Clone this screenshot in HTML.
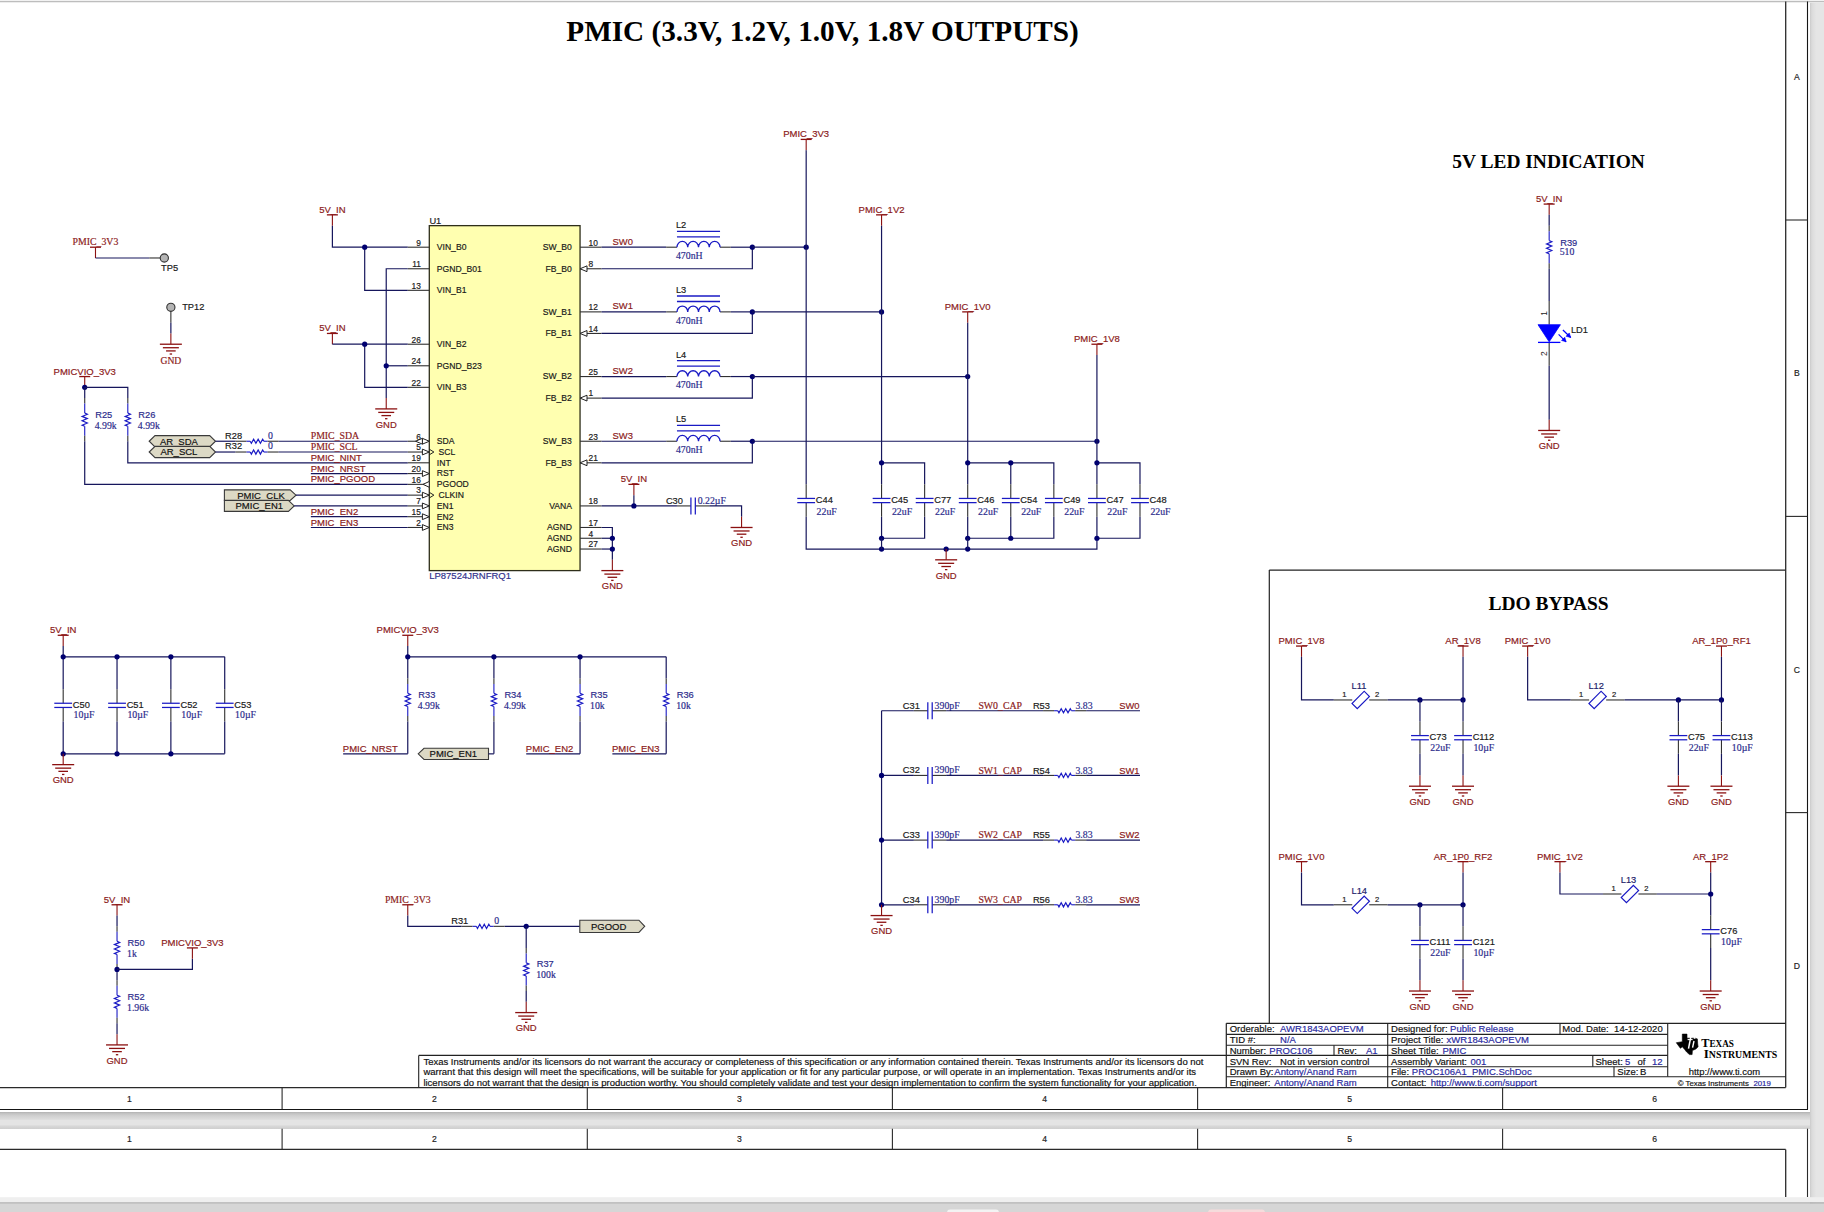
<!DOCTYPE html>
<html><head><meta charset="utf-8"><title>PMIC schematic</title>
<style>
html,body{margin:0;padding:0;background:#fff;}
body{width:1824px;height:1212px;overflow:hidden;position:relative;}
svg{position:absolute;left:0;top:0;}
.S{font-family:"Liberation Sans",sans-serif;}
.R{font-family:"Liberation Serif",serif;}
text{stroke-width:0.18px;}
</style></head><body>
<svg width="1824" height="1212" viewBox="0 0 1824 1212">
<defs>
<linearGradient id="gap" x1="0" y1="0" x2="0" y2="1">
<stop offset="0" stop-color="#b0b0b0"/><stop offset="0.06" stop-color="#bebebe"/><stop offset="0.12" stop-color="#c6c6c6"/><stop offset="0.2" stop-color="#cecece"/><stop offset="0.32" stop-color="#d6d6d6"/><stop offset="0.42" stop-color="#dcdcdc"/><stop offset="0.5" stop-color="#e4e4e4"/><stop offset="0.74" stop-color="#e4e4e4"/><stop offset="0.8" stop-color="#dcdcdc"/><stop offset="0.88" stop-color="#d4d4d4"/><stop offset="1" stop-color="#cfcfcf"/>
</linearGradient>
<linearGradient id="rs" x1="0" y1="0" x2="1" y2="0">
<stop offset="0" stop-color="#c9c9c9"/><stop offset="0.07" stop-color="#d4d4d4"/><stop offset="0.15" stop-color="#dbdbdb"/><stop offset="0.28" stop-color="#e0e0e0"/><stop offset="0.45" stop-color="#e5e5e5"/><stop offset="1" stop-color="#e5e5e5"/>
</linearGradient>
</defs>
<rect x="0" y="0" width="1824" height="1212" fill="#fff"/>
<rect x="1810" y="0" width="14" height="1212" fill="url(#rs)"/>
<rect x="0" y="1112" width="1810" height="17" fill="url(#gap)"/>
<rect x="0" y="1197.2" width="1824" height="5" fill="#efefef"/>
<rect x="0" y="1202.2" width="1824" height="1.6" fill="#b2b2b2"/>
<rect x="0" y="1203.8" width="1824" height="8.2" fill="#d6d6d6"/>
<rect x="0" y="0" width="1824" height="1" fill="#f2f2f2"/>
<rect x="0" y="1" width="1824" height="1.2" fill="#bdbdbd"/>
<rect x="0" y="2.2" width="1824" height="0.8" fill="#ececec"/>
<rect x="429.3" y="225.64" width="150.75" height="344.96" fill="#ffffb0" stroke="#2e2e1a" stroke-width="1.3"/>
<text x="429.4" y="223.74" class="S" font-size="9.3" fill="#1a1a1a" stroke="#1a1a1a">U1</text>
<text x="429.2" y="578.6" class="S" font-size="9.5" fill="#32328c" stroke="#32328c">LP87524JRNFRQ1</text>
<line x1="407.76" y1="247.2" x2="429.3" y2="247.2" stroke="#303030" stroke-width="1.1"/>
<text x="420.9" y="245.5" class="S" font-size="8.4" fill="#1a1a1a" stroke="#1a1a1a" text-anchor="end">9</text>
<text x="436.8" y="250" class="S" font-size="8.6" fill="#1a1a1a" stroke="#1a1a1a">VIN_B0</text>
<line x1="407.76" y1="268.76" x2="429.3" y2="268.76" stroke="#303030" stroke-width="1.1"/>
<text x="420.9" y="267.06" class="S" font-size="8.4" fill="#1a1a1a" stroke="#1a1a1a" text-anchor="end">11</text>
<text x="436.8" y="271.56" class="S" font-size="8.6" fill="#1a1a1a" stroke="#1a1a1a">PGND_B01</text>
<line x1="407.76" y1="290.32" x2="429.3" y2="290.32" stroke="#303030" stroke-width="1.1"/>
<text x="420.9" y="288.62" class="S" font-size="8.4" fill="#1a1a1a" stroke="#1a1a1a" text-anchor="end">13</text>
<text x="436.8" y="293.12" class="S" font-size="8.6" fill="#1a1a1a" stroke="#1a1a1a">VIN_B1</text>
<line x1="407.76" y1="344.22" x2="429.3" y2="344.22" stroke="#303030" stroke-width="1.1"/>
<text x="420.9" y="342.52" class="S" font-size="8.4" fill="#1a1a1a" stroke="#1a1a1a" text-anchor="end">26</text>
<text x="436.8" y="347.02" class="S" font-size="8.6" fill="#1a1a1a" stroke="#1a1a1a">VIN_B2</text>
<line x1="407.76" y1="365.78" x2="429.3" y2="365.78" stroke="#303030" stroke-width="1.1"/>
<text x="420.9" y="364.08" class="S" font-size="8.4" fill="#1a1a1a" stroke="#1a1a1a" text-anchor="end">24</text>
<text x="436.8" y="368.58" class="S" font-size="8.6" fill="#1a1a1a" stroke="#1a1a1a">PGND_B23</text>
<line x1="407.76" y1="387.34" x2="429.3" y2="387.34" stroke="#303030" stroke-width="1.1"/>
<text x="420.9" y="385.64" class="S" font-size="8.4" fill="#1a1a1a" stroke="#1a1a1a" text-anchor="end">22</text>
<text x="436.8" y="390.14" class="S" font-size="8.6" fill="#1a1a1a" stroke="#1a1a1a">VIN_B3</text>
<line x1="407.76" y1="441.24" x2="429.3" y2="441.24" stroke="#303030" stroke-width="1.1"/>
<text x="420.9" y="439.54" class="S" font-size="8.4" fill="#1a1a1a" stroke="#1a1a1a" text-anchor="end">6</text>
<text x="436.8" y="444.04" class="S" font-size="8.6" fill="#1a1a1a" stroke="#1a1a1a">SDA</text>
<polygon points="422.4,438.34 429.3,441.24 422.4,444.14" stroke="#222" stroke-width="1.0" fill="#fff" stroke-linejoin="miter"/>
<polygon points="422.4,438.34 415.6,441.24 422.4,444.14" stroke="#222" stroke-width="1.0" fill="#fff" stroke-linejoin="miter"/>
<line x1="407.76" y1="452.02" x2="429.3" y2="452.02" stroke="#303030" stroke-width="1.1"/>
<text x="420.9" y="450.32" class="S" font-size="8.4" fill="#1a1a1a" stroke="#1a1a1a" text-anchor="end">5</text>
<text x="438.6" y="454.82" class="S" font-size="8.6" fill="#1a1a1a" stroke="#1a1a1a">SCL</text>
<polygon points="422.4,449.12 429.3,452.02 422.4,454.92" stroke="#222" stroke-width="1.0" fill="#fff" stroke-linejoin="miter"/>
<polyline points="429.3,449.22 433.9,452.02 429.3,454.82" stroke="#222" stroke-width="1.0" fill="none" stroke-linejoin="miter"/>
<line x1="407.76" y1="462.8" x2="429.3" y2="462.8" stroke="#303030" stroke-width="1.1"/>
<text x="420.9" y="461.1" class="S" font-size="8.4" fill="#1a1a1a" stroke="#1a1a1a" text-anchor="end">19</text>
<text x="436.8" y="465.6" class="S" font-size="8.6" fill="#1a1a1a" stroke="#1a1a1a">INT</text>
<line x1="407.76" y1="473.58" x2="429.3" y2="473.58" stroke="#303030" stroke-width="1.1"/>
<text x="420.9" y="471.88" class="S" font-size="8.4" fill="#1a1a1a" stroke="#1a1a1a" text-anchor="end">20</text>
<text x="436.8" y="476.38" class="S" font-size="8.6" fill="#1a1a1a" stroke="#1a1a1a">RST</text>
<polygon points="422.4,470.68 429.3,473.58 422.4,476.48" stroke="#222" stroke-width="1.0" fill="#fff" stroke-linejoin="miter"/>
<line x1="407.76" y1="484.36" x2="429.3" y2="484.36" stroke="#303030" stroke-width="1.1"/>
<text x="420.9" y="482.66" class="S" font-size="8.4" fill="#1a1a1a" stroke="#1a1a1a" text-anchor="end">16</text>
<text x="436.8" y="487.16" class="S" font-size="8.6" fill="#1a1a1a" stroke="#1a1a1a">PGOOD</text>
<polygon points="429.3,481.46 423,484.36 429.3,487.26" stroke="#222" stroke-width="1.0" fill="#fff" stroke-linejoin="miter"/>
<line x1="407.76" y1="495.14" x2="429.3" y2="495.14" stroke="#303030" stroke-width="1.1"/>
<text x="420.9" y="493.44" class="S" font-size="8.4" fill="#1a1a1a" stroke="#1a1a1a" text-anchor="end">3</text>
<text x="438.6" y="497.94" class="S" font-size="8.6" fill="#1a1a1a" stroke="#1a1a1a">CLKIN</text>
<polygon points="422.4,492.24 429.3,495.14 422.4,498.04" stroke="#222" stroke-width="1.0" fill="#fff" stroke-linejoin="miter"/>
<polyline points="429.3,492.34 433.9,495.14 429.3,497.94" stroke="#222" stroke-width="1.0" fill="none" stroke-linejoin="miter"/>
<line x1="407.76" y1="505.92" x2="429.3" y2="505.92" stroke="#303030" stroke-width="1.1"/>
<text x="420.9" y="504.22" class="S" font-size="8.4" fill="#1a1a1a" stroke="#1a1a1a" text-anchor="end">7</text>
<text x="436.8" y="508.72" class="S" font-size="8.6" fill="#1a1a1a" stroke="#1a1a1a">EN1</text>
<polygon points="422.4,503.02 429.3,505.92 422.4,508.82" stroke="#222" stroke-width="1.0" fill="#fff" stroke-linejoin="miter"/>
<line x1="407.76" y1="516.7" x2="429.3" y2="516.7" stroke="#303030" stroke-width="1.1"/>
<text x="420.9" y="515" class="S" font-size="8.4" fill="#1a1a1a" stroke="#1a1a1a" text-anchor="end">15</text>
<text x="436.8" y="519.5" class="S" font-size="8.6" fill="#1a1a1a" stroke="#1a1a1a">EN2</text>
<polygon points="422.4,513.8 429.3,516.7 422.4,519.6" stroke="#222" stroke-width="1.0" fill="#fff" stroke-linejoin="miter"/>
<line x1="407.76" y1="527.48" x2="429.3" y2="527.48" stroke="#303030" stroke-width="1.1"/>
<text x="420.9" y="525.78" class="S" font-size="8.4" fill="#1a1a1a" stroke="#1a1a1a" text-anchor="end">2</text>
<text x="436.8" y="530.28" class="S" font-size="8.6" fill="#1a1a1a" stroke="#1a1a1a">EN3</text>
<polygon points="422.4,524.58 429.3,527.48 422.4,530.38" stroke="#222" stroke-width="1.0" fill="#fff" stroke-linejoin="miter"/>
<line x1="580.05" y1="247.2" x2="601.59" y2="247.2" stroke="#303030" stroke-width="1.1"/>
<text x="588.5" y="245.5" class="S" font-size="8.4" fill="#1a1a1a" stroke="#1a1a1a">10</text>
<text x="571.9" y="250" class="S" font-size="8.6" fill="#1a1a1a" stroke="#1a1a1a" text-anchor="end">SW_B0</text>
<line x1="580.05" y1="268.76" x2="601.59" y2="268.76" stroke="#303030" stroke-width="1.1"/>
<text x="588.5" y="267.06" class="S" font-size="8.4" fill="#1a1a1a" stroke="#1a1a1a">8</text>
<text x="571.9" y="271.56" class="S" font-size="8.6" fill="#1a1a1a" stroke="#1a1a1a" text-anchor="end">FB_B0</text>
<polygon points="587,265.86 580.05,268.76 587,271.66" stroke="#222" stroke-width="1.0" fill="#fff" stroke-linejoin="miter"/>
<line x1="580.05" y1="311.88" x2="601.59" y2="311.88" stroke="#303030" stroke-width="1.1"/>
<text x="588.5" y="310.18" class="S" font-size="8.4" fill="#1a1a1a" stroke="#1a1a1a">12</text>
<text x="571.9" y="314.68" class="S" font-size="8.6" fill="#1a1a1a" stroke="#1a1a1a" text-anchor="end">SW_B1</text>
<line x1="580.05" y1="333.44" x2="601.59" y2="333.44" stroke="#303030" stroke-width="1.1"/>
<text x="588.5" y="331.74" class="S" font-size="8.4" fill="#1a1a1a" stroke="#1a1a1a">14</text>
<text x="571.9" y="336.24" class="S" font-size="8.6" fill="#1a1a1a" stroke="#1a1a1a" text-anchor="end">FB_B1</text>
<polygon points="587,330.54 580.05,333.44 587,336.34" stroke="#222" stroke-width="1.0" fill="#fff" stroke-linejoin="miter"/>
<line x1="580.05" y1="376.56" x2="601.59" y2="376.56" stroke="#303030" stroke-width="1.1"/>
<text x="588.5" y="374.86" class="S" font-size="8.4" fill="#1a1a1a" stroke="#1a1a1a">25</text>
<text x="571.9" y="379.36" class="S" font-size="8.6" fill="#1a1a1a" stroke="#1a1a1a" text-anchor="end">SW_B2</text>
<line x1="580.05" y1="398.12" x2="601.59" y2="398.12" stroke="#303030" stroke-width="1.1"/>
<text x="588.5" y="396.42" class="S" font-size="8.4" fill="#1a1a1a" stroke="#1a1a1a">1</text>
<text x="571.9" y="400.92" class="S" font-size="8.6" fill="#1a1a1a" stroke="#1a1a1a" text-anchor="end">FB_B2</text>
<polygon points="587,395.22 580.05,398.12 587,401.02" stroke="#222" stroke-width="1.0" fill="#fff" stroke-linejoin="miter"/>
<line x1="580.05" y1="441.24" x2="601.59" y2="441.24" stroke="#303030" stroke-width="1.1"/>
<text x="588.5" y="439.54" class="S" font-size="8.4" fill="#1a1a1a" stroke="#1a1a1a">23</text>
<text x="571.9" y="444.04" class="S" font-size="8.6" fill="#1a1a1a" stroke="#1a1a1a" text-anchor="end">SW_B3</text>
<line x1="580.05" y1="462.8" x2="601.59" y2="462.8" stroke="#303030" stroke-width="1.1"/>
<text x="588.5" y="461.1" class="S" font-size="8.4" fill="#1a1a1a" stroke="#1a1a1a">21</text>
<text x="571.9" y="465.6" class="S" font-size="8.6" fill="#1a1a1a" stroke="#1a1a1a" text-anchor="end">FB_B3</text>
<polygon points="587,459.9 580.05,462.8 587,465.7" stroke="#222" stroke-width="1.0" fill="#fff" stroke-linejoin="miter"/>
<line x1="580.05" y1="505.92" x2="601.59" y2="505.92" stroke="#303030" stroke-width="1.1"/>
<text x="588.5" y="504.22" class="S" font-size="8.4" fill="#1a1a1a" stroke="#1a1a1a">18</text>
<text x="571.9" y="508.72" class="S" font-size="8.6" fill="#1a1a1a" stroke="#1a1a1a" text-anchor="end">VANA</text>
<line x1="580.05" y1="527.48" x2="601.59" y2="527.48" stroke="#303030" stroke-width="1.1"/>
<text x="588.5" y="525.78" class="S" font-size="8.4" fill="#1a1a1a" stroke="#1a1a1a">17</text>
<text x="571.9" y="530.28" class="S" font-size="8.6" fill="#1a1a1a" stroke="#1a1a1a" text-anchor="end">AGND</text>
<line x1="580.05" y1="538.26" x2="601.59" y2="538.26" stroke="#303030" stroke-width="1.1"/>
<text x="588.5" y="536.56" class="S" font-size="8.4" fill="#1a1a1a" stroke="#1a1a1a">4</text>
<text x="571.9" y="541.06" class="S" font-size="8.6" fill="#1a1a1a" stroke="#1a1a1a" text-anchor="end">AGND</text>
<line x1="580.05" y1="549.04" x2="601.59" y2="549.04" stroke="#303030" stroke-width="1.1"/>
<text x="588.5" y="547.34" class="S" font-size="8.4" fill="#1a1a1a" stroke="#1a1a1a">27</text>
<text x="571.9" y="551.84" class="S" font-size="8.6" fill="#1a1a1a" stroke="#1a1a1a" text-anchor="end">AGND</text>
<line x1="326.89" y1="214.86" x2="337.89" y2="214.86" stroke="#8b1010" stroke-width="1.3"/>
<line x1="332.39" y1="214.86" x2="332.39" y2="225.64" stroke="#8b1010" stroke-width="1.1"/>
<text x="332.39" y="212.86" class="S" font-size="9.5" fill="#8b1a1a" stroke="#8b1a1a" text-anchor="middle">5V_IN</text>
<polyline points="332.39,225.64 332.39,247.2 407.76,247.2" stroke="#16165c" stroke-width="1.2" fill="none" stroke-linejoin="miter"/>
<polyline points="364.69,247.2 364.69,290.32 407.76,290.32" stroke="#16165c" stroke-width="1.2" fill="none" stroke-linejoin="miter"/>
<circle cx="364.69" cy="247.2" r="2.6" fill="#000070"/>
<polyline points="407.76,268.76 386.23,268.76 386.23,398.12" stroke="#16165c" stroke-width="1.2" fill="none" stroke-linejoin="miter"/>
<polyline points="386.23,365.78 407.76,365.78" stroke="#16165c" stroke-width="1.2" fill="none" stroke-linejoin="miter"/>
<circle cx="386.23" cy="365.78" r="2.6" fill="#000070"/>
<line x1="326.89" y1="333.44" x2="337.89" y2="333.44" stroke="#8b1010" stroke-width="1.3"/>
<line x1="332.39" y1="333.44" x2="332.39" y2="344.22" stroke="#8b1010" stroke-width="1.1"/>
<text x="332.39" y="331.44" class="S" font-size="9.5" fill="#8b1a1a" stroke="#8b1a1a" text-anchor="middle">5V_IN</text>
<polyline points="332.39,344.22 407.76,344.22" stroke="#16165c" stroke-width="1.2" fill="none" stroke-linejoin="miter"/>
<polyline points="364.69,344.22 364.69,387.34 407.76,387.34" stroke="#16165c" stroke-width="1.2" fill="none" stroke-linejoin="miter"/>
<circle cx="364.69" cy="344.22" r="2.6" fill="#000070"/>
<line x1="386.23" y1="398.12" x2="386.23" y2="408.9" stroke="#8b1010" stroke-width="1.1"/>
<line x1="375.23" y1="408.9" x2="397.23" y2="408.9" stroke="#8b1010" stroke-width="1.3"/>
<line x1="378.23" y1="412.4" x2="394.23" y2="412.4" stroke="#8b1010" stroke-width="1.3"/>
<line x1="381.43" y1="415.6" x2="391.03" y2="415.6" stroke="#8b1010" stroke-width="1.3"/>
<line x1="385.03" y1="418.7" x2="387.43" y2="418.7" stroke="#8b1010" stroke-width="1.3"/>
<text x="386.23" y="427.7" class="S" font-size="9.45" fill="#8b1a1a" stroke="#8b1a1a" text-anchor="middle">GND</text>
<line x1="89.99" y1="247.2" x2="100.99" y2="247.2" stroke="#8b1010" stroke-width="1.3"/>
<line x1="95.49" y1="247.2" x2="95.49" y2="257.98" stroke="#8b1010" stroke-width="1.1"/>
<text x="95.49" y="245.1" class="R" font-size="9.8" fill="#8b1a1a" stroke="#8b1a1a" text-anchor="middle">PMIC_3V3</text>
<polyline points="95.49,257.98 149.33,257.98" stroke="#16165c" stroke-width="1.2" fill="none" stroke-linejoin="miter"/>
<line x1="149.33" y1="257.98" x2="160.13" y2="257.98" stroke="#303030" stroke-width="1.1"/>
<circle cx="164.33" cy="257.98" r="4.1" fill="#b4b4b4" stroke="#333" stroke-width="1.1"/>
<text x="161" y="270.6" class="S" font-size="9.3" fill="#1a1a1a" stroke="#1a1a1a">TP5</text>
<circle cx="170.87" cy="307.3" r="4.1" fill="#b4b4b4" stroke="#333" stroke-width="1.1"/>
<line x1="170.87" y1="311.4" x2="170.87" y2="322.66" stroke="#303030" stroke-width="1.1"/>
<polyline points="170.87,322.66 170.87,333.44" stroke="#16165c" stroke-width="1.2" fill="none" stroke-linejoin="miter"/>
<line x1="170.87" y1="333.44" x2="170.87" y2="344.22" stroke="#8b1010" stroke-width="1.1"/>
<line x1="159.87" y1="344.22" x2="181.87" y2="344.22" stroke="#8b1010" stroke-width="1.3"/>
<line x1="162.87" y1="347.72" x2="178.87" y2="347.72" stroke="#8b1010" stroke-width="1.3"/>
<line x1="166.07" y1="350.92" x2="175.67" y2="350.92" stroke="#8b1010" stroke-width="1.3"/>
<line x1="169.67" y1="354.02" x2="172.07" y2="354.02" stroke="#8b1010" stroke-width="1.3"/>
<text x="170.87" y="363.52" class="R" font-size="9.6" fill="#8b1a1a" stroke="#8b1a1a" text-anchor="middle">GND</text>
<text x="182.2" y="309.7" class="S" font-size="9.3" fill="#1a1a1a" stroke="#1a1a1a">TP12</text>
<line x1="79.22" y1="376.56" x2="90.22" y2="376.56" stroke="#8b1010" stroke-width="1.3"/>
<line x1="84.72" y1="376.56" x2="84.72" y2="387.34" stroke="#8b1010" stroke-width="1.1"/>
<text x="84.72" y="374.56" class="S" font-size="9.5" fill="#8b1a1a" stroke="#8b1a1a" text-anchor="middle">PMICVIO_3V3</text>
<circle cx="84.72" cy="387.34" r="2.6" fill="#000070"/>
<polyline points="84.72,387.34 127.8,387.34 127.8,398.12" stroke="#16165c" stroke-width="1.2" fill="none" stroke-linejoin="miter"/>
<polyline points="84.72,387.34 84.72,398.12" stroke="#16165c" stroke-width="1.2" fill="none" stroke-linejoin="miter"/>
<line x1="84.72" y1="398.12" x2="84.72" y2="403.62" stroke="#303030" stroke-width="1.1"/>
<line x1="84.72" y1="403.62" x2="84.72" y2="413.08" stroke="#1a1ac4" stroke-width="1.1"/>
<polyline points="84.72,413.08 87.32,414.18 82.12,416.38 87.32,418.58 82.12,420.78 87.32,422.98 82.12,425.18 84.72,426.28" stroke="#1a1ac4" stroke-width="1.2" fill="none" stroke-linejoin="miter"/>
<line x1="84.72" y1="426.28" x2="84.72" y2="435.74" stroke="#1a1ac4" stroke-width="1.1"/>
<line x1="84.72" y1="435.74" x2="84.72" y2="441.24" stroke="#303030" stroke-width="1.1"/>
<text x="95.22" y="417.68" class="S" font-size="9.3" fill="#2c2c8c" stroke="#2c2c8c">R25</text>
<text x="94.72" y="428.68" class="R" font-size="9.8" fill="#2c2c8c" stroke="#2c2c8c">4.99k</text>
<line x1="127.8" y1="398.12" x2="127.8" y2="403.62" stroke="#303030" stroke-width="1.1"/>
<line x1="127.8" y1="403.62" x2="127.8" y2="413.08" stroke="#1a1ac4" stroke-width="1.1"/>
<polyline points="127.8,413.08 130.4,414.18 125.2,416.38 130.4,418.58 125.2,420.78 130.4,422.98 125.2,425.18 127.8,426.28" stroke="#1a1ac4" stroke-width="1.2" fill="none" stroke-linejoin="miter"/>
<line x1="127.8" y1="426.28" x2="127.8" y2="435.74" stroke="#1a1ac4" stroke-width="1.1"/>
<line x1="127.8" y1="435.74" x2="127.8" y2="441.24" stroke="#303030" stroke-width="1.1"/>
<text x="138.3" y="417.68" class="S" font-size="9.3" fill="#2c2c8c" stroke="#2c2c8c">R26</text>
<text x="137.8" y="428.68" class="R" font-size="9.8" fill="#2c2c8c" stroke="#2c2c8c">4.99k</text>
<polyline points="127.8,441.24 127.8,462.8 407.76,462.8" stroke="#16165c" stroke-width="1.2" fill="none" stroke-linejoin="miter"/>
<polyline points="84.72,441.24 84.72,484.36 407.76,484.36" stroke="#16165c" stroke-width="1.2" fill="none" stroke-linejoin="miter"/>
<polygon points="149.2,441.24 155,435.64 209.7,435.64 215.5,441.24 209.7,446.84 155,446.84" stroke="#3a3a3a" stroke-width="1.1" fill="#dcd9c5" stroke-linejoin="miter"/>
<text x="178.9" y="444.64" class="S" font-size="9.5" fill="#111" stroke="#111" text-anchor="middle">AR_SDA</text>
<polygon points="149.2,452.02 155,446.42 209.7,446.42 215.5,452.02 209.7,457.62 155,457.62" stroke="#3a3a3a" stroke-width="1.1" fill="#dcd9c5" stroke-linejoin="miter"/>
<text x="178.9" y="455.42" class="S" font-size="9.5" fill="#111" stroke="#111" text-anchor="middle">AR_SCL</text>
<polyline points="215.5,441.24 235.48,441.24" stroke="#16165c" stroke-width="1.2" fill="none" stroke-linejoin="miter"/>
<polyline points="215.5,452.02 235.48,452.02" stroke="#16165c" stroke-width="1.2" fill="none" stroke-linejoin="miter"/>
<line x1="235.48" y1="441.24" x2="246.48" y2="441.24" stroke="#303030" stroke-width="1.1"/>
<line x1="246.48" y1="441.24" x2="250.21" y2="441.24" stroke="#1a1ac4" stroke-width="1.1"/>
<polyline points="250.21,441.24 251.35,443.34 253.61,439.14 255.88,443.34 258.15,439.14 260.41,443.34 262.68,439.14 263.81,441.24" stroke="#1a1ac4" stroke-width="1.2" fill="none" stroke-linejoin="miter"/>
<line x1="263.81" y1="441.24" x2="267.55" y2="441.24" stroke="#1a1ac4" stroke-width="1.1"/>
<line x1="267.55" y1="441.24" x2="278.55" y2="441.24" stroke="#303030" stroke-width="1.1"/>
<text x="225.08" y="438.64" class="S" font-size="9.3" fill="#1a1a1a" stroke="#1a1a1a">R28</text>
<text x="268.01" y="438.64" class="R" font-size="9.8" fill="#2c2c8c" stroke="#2c2c8c">0</text>
<line x1="235.48" y1="452.02" x2="246.48" y2="452.02" stroke="#303030" stroke-width="1.1"/>
<line x1="246.48" y1="452.02" x2="250.21" y2="452.02" stroke="#1a1ac4" stroke-width="1.1"/>
<polyline points="250.21,452.02 251.35,454.12 253.61,449.92 255.88,454.12 258.15,449.92 260.41,454.12 262.68,449.92 263.81,452.02" stroke="#1a1ac4" stroke-width="1.2" fill="none" stroke-linejoin="miter"/>
<line x1="263.81" y1="452.02" x2="267.55" y2="452.02" stroke="#1a1ac4" stroke-width="1.1"/>
<line x1="267.55" y1="452.02" x2="278.55" y2="452.02" stroke="#303030" stroke-width="1.1"/>
<text x="225.08" y="449.42" class="S" font-size="9.3" fill="#1a1a1a" stroke="#1a1a1a">R32</text>
<text x="268.01" y="449.42" class="R" font-size="9.8" fill="#2c2c8c" stroke="#2c2c8c">0</text>
<polyline points="278.55,441.24 407.76,441.24" stroke="#16165c" stroke-width="1.2" fill="none" stroke-linejoin="miter"/>
<polyline points="278.55,452.02 407.76,452.02" stroke="#16165c" stroke-width="1.2" fill="none" stroke-linejoin="miter"/>
<text x="310.7" y="438.84" class="R" font-size="9.8" fill="#8b1a1a" stroke="#8b1a1a">PMIC_SDA</text>
<text x="310.7" y="449.62" class="R" font-size="9.8" fill="#8b1a1a" stroke="#8b1a1a">PMIC_SCL</text>
<text x="310.7" y="460.8" class="S" font-size="9.5" fill="#8b1a1a" stroke="#8b1a1a">PMIC_NINT</text>
<text x="310.7" y="471.78" class="S" font-size="9.5" fill="#8b1a1a" stroke="#8b1a1a">PMIC_NRST</text>
<polyline points="310.85,473.58 407.76,473.58" stroke="#16165c" stroke-width="1.2" fill="none" stroke-linejoin="miter"/>
<text x="310.7" y="481.96" class="S" font-size="9.5" fill="#8b1a1a" stroke="#8b1a1a">PMIC_PGOOD</text>
<polygon points="224.4,489.84 290.2,489.84 296,495.14 290.2,500.44 224.4,500.44" stroke="#3a3a3a" stroke-width="1.1" fill="#dcd9c5" stroke-linejoin="miter"/>
<text x="261" y="498.54" class="S" font-size="9.5" fill="#111" stroke="#111" text-anchor="middle">PMIC_CLK</text>
<polygon points="224.4,500.42 288.4,500.42 294.2,505.92 288.4,511.42 224.4,511.42" stroke="#3a3a3a" stroke-width="1.1" fill="#dcd9c5" stroke-linejoin="miter"/>
<text x="259.3" y="509.32" class="S" font-size="9.5" fill="#111" stroke="#111" text-anchor="middle">PMIC_EN1</text>
<polyline points="296,495.14 407.76,495.14" stroke="#16165c" stroke-width="1.2" fill="none" stroke-linejoin="miter"/>
<polyline points="294.2,505.92 407.76,505.92" stroke="#16165c" stroke-width="1.2" fill="none" stroke-linejoin="miter"/>
<text x="310.7" y="514.8" class="S" font-size="9.5" fill="#8b1a1a" stroke="#8b1a1a">PMIC_EN2</text>
<polyline points="310.85,516.7 407.76,516.7" stroke="#16165c" stroke-width="1.2" fill="none" stroke-linejoin="miter"/>
<text x="310.7" y="525.58" class="S" font-size="9.5" fill="#8b1a1a" stroke="#8b1a1a">PMIC_EN3</text>
<polyline points="310.85,527.48 407.76,527.48" stroke="#16165c" stroke-width="1.2" fill="none" stroke-linejoin="miter"/>
<polyline points="601.59,247.2 666.2,247.2" stroke="#16165c" stroke-width="1.2" fill="none" stroke-linejoin="miter"/>
<line x1="666.2" y1="247.2" x2="676.96" y2="247.2" stroke="#303030" stroke-width="1.1"/>
<line x1="720.04" y1="247.2" x2="730.8" y2="247.2" stroke="#303030" stroke-width="1.1"/>
<path d="M676.96,247.2 A5.38,5.8 0 0 1 687.73,247.2 A5.38,5.8 0 0 1 698.5,247.2 A5.38,5.8 0 0 1 709.27,247.2 A5.38,5.8 0 0 1 720.04,247.2" stroke="#1a1ac4" stroke-width="1.3" fill="none"/>
<line x1="676.96" y1="231.3" x2="720.04" y2="231.3" stroke="#1a1ac4" stroke-width="1.3"/>
<line x1="676.96" y1="236.8" x2="720.04" y2="236.8" stroke="#1a1ac4" stroke-width="1.3"/>
<text x="675.96" y="228.3" class="S" font-size="9.3" fill="#1a1a1a" stroke="#1a1a1a">L2</text>
<text x="675.96" y="259" class="R" font-size="9.8" fill="#2c2c8c" stroke="#2c2c8c">470nH</text>
<text x="612.6" y="244.7" class="S" font-size="9.4" fill="#8b1a1a" stroke="#8b1a1a">SW0</text>
<polyline points="730.8,247.2 752.34,247.2" stroke="#16165c" stroke-width="1.2" fill="none" stroke-linejoin="miter"/>
<polyline points="752.34,247.2 752.34,268.76 601.59,268.76" stroke="#16165c" stroke-width="1.2" fill="none" stroke-linejoin="miter"/>
<circle cx="752.34" cy="247.2" r="2.6" fill="#000070"/>
<polyline points="601.59,311.88 666.2,311.88" stroke="#16165c" stroke-width="1.2" fill="none" stroke-linejoin="miter"/>
<line x1="666.2" y1="311.88" x2="676.96" y2="311.88" stroke="#303030" stroke-width="1.1"/>
<line x1="720.04" y1="311.88" x2="730.8" y2="311.88" stroke="#303030" stroke-width="1.1"/>
<path d="M676.96,311.88 A5.38,5.8 0 0 1 687.73,311.88 A5.38,5.8 0 0 1 698.5,311.88 A5.38,5.8 0 0 1 709.27,311.88 A5.38,5.8 0 0 1 720.04,311.88" stroke="#1a1ac4" stroke-width="1.3" fill="none"/>
<line x1="676.96" y1="295.98" x2="720.04" y2="295.98" stroke="#1a1ac4" stroke-width="1.3"/>
<line x1="676.96" y1="301.48" x2="720.04" y2="301.48" stroke="#1a1ac4" stroke-width="1.3"/>
<text x="675.96" y="292.98" class="S" font-size="9.3" fill="#1a1a1a" stroke="#1a1a1a">L3</text>
<text x="675.96" y="323.68" class="R" font-size="9.8" fill="#2c2c8c" stroke="#2c2c8c">470nH</text>
<text x="612.6" y="309.38" class="S" font-size="9.4" fill="#8b1a1a" stroke="#8b1a1a">SW1</text>
<polyline points="730.8,311.88 752.34,311.88" stroke="#16165c" stroke-width="1.2" fill="none" stroke-linejoin="miter"/>
<polyline points="752.34,311.88 752.34,333.44 601.59,333.44" stroke="#16165c" stroke-width="1.2" fill="none" stroke-linejoin="miter"/>
<circle cx="752.34" cy="311.88" r="2.6" fill="#000070"/>
<polyline points="601.59,376.56 666.2,376.56" stroke="#16165c" stroke-width="1.2" fill="none" stroke-linejoin="miter"/>
<line x1="666.2" y1="376.56" x2="676.96" y2="376.56" stroke="#303030" stroke-width="1.1"/>
<line x1="720.04" y1="376.56" x2="730.8" y2="376.56" stroke="#303030" stroke-width="1.1"/>
<path d="M676.96,376.56 A5.38,5.8 0 0 1 687.73,376.56 A5.38,5.8 0 0 1 698.5,376.56 A5.38,5.8 0 0 1 709.27,376.56 A5.38,5.8 0 0 1 720.04,376.56" stroke="#1a1ac4" stroke-width="1.3" fill="none"/>
<line x1="676.96" y1="360.66" x2="720.04" y2="360.66" stroke="#1a1ac4" stroke-width="1.3"/>
<line x1="676.96" y1="366.16" x2="720.04" y2="366.16" stroke="#1a1ac4" stroke-width="1.3"/>
<text x="675.96" y="357.66" class="S" font-size="9.3" fill="#1a1a1a" stroke="#1a1a1a">L4</text>
<text x="675.96" y="388.36" class="R" font-size="9.8" fill="#2c2c8c" stroke="#2c2c8c">470nH</text>
<text x="612.6" y="374.06" class="S" font-size="9.4" fill="#8b1a1a" stroke="#8b1a1a">SW2</text>
<polyline points="730.8,376.56 752.34,376.56" stroke="#16165c" stroke-width="1.2" fill="none" stroke-linejoin="miter"/>
<polyline points="752.34,376.56 752.34,398.12 601.59,398.12" stroke="#16165c" stroke-width="1.2" fill="none" stroke-linejoin="miter"/>
<circle cx="752.34" cy="376.56" r="2.6" fill="#000070"/>
<polyline points="601.59,441.24 666.2,441.24" stroke="#16165c" stroke-width="1.2" fill="none" stroke-linejoin="miter"/>
<line x1="666.2" y1="441.24" x2="676.96" y2="441.24" stroke="#303030" stroke-width="1.1"/>
<line x1="720.04" y1="441.24" x2="730.8" y2="441.24" stroke="#303030" stroke-width="1.1"/>
<path d="M676.96,441.24 A5.38,5.8 0 0 1 687.73,441.24 A5.38,5.8 0 0 1 698.5,441.24 A5.38,5.8 0 0 1 709.27,441.24 A5.38,5.8 0 0 1 720.04,441.24" stroke="#1a1ac4" stroke-width="1.3" fill="none"/>
<line x1="676.96" y1="425.34" x2="720.04" y2="425.34" stroke="#1a1ac4" stroke-width="1.3"/>
<line x1="676.96" y1="430.84" x2="720.04" y2="430.84" stroke="#1a1ac4" stroke-width="1.3"/>
<text x="675.96" y="422.34" class="S" font-size="9.3" fill="#1a1a1a" stroke="#1a1a1a">L5</text>
<text x="675.96" y="453.04" class="R" font-size="9.8" fill="#2c2c8c" stroke="#2c2c8c">470nH</text>
<text x="612.6" y="438.74" class="S" font-size="9.4" fill="#8b1a1a" stroke="#8b1a1a">SW3</text>
<polyline points="730.8,441.24 752.34,441.24" stroke="#16165c" stroke-width="1.2" fill="none" stroke-linejoin="miter"/>
<polyline points="752.34,441.24 752.34,462.8 601.59,462.8" stroke="#16165c" stroke-width="1.2" fill="none" stroke-linejoin="miter"/>
<circle cx="752.34" cy="441.24" r="2.6" fill="#000070"/>
<polyline points="752.34,247.2 806.18,247.2" stroke="#16165c" stroke-width="1.2" fill="none" stroke-linejoin="miter"/>
<circle cx="806.18" cy="247.2" r="2.6" fill="#000070"/>
<polyline points="752.34,311.88 881.56,311.88" stroke="#16165c" stroke-width="1.2" fill="none" stroke-linejoin="miter"/>
<circle cx="881.56" cy="311.88" r="2.6" fill="#000070"/>
<polyline points="752.34,376.56 967.7,376.56" stroke="#16165c" stroke-width="1.2" fill="none" stroke-linejoin="miter"/>
<circle cx="967.7" cy="376.56" r="2.6" fill="#000070"/>
<polyline points="752.34,441.24 1096.92,441.24" stroke="#16165c" stroke-width="1.2" fill="none" stroke-linejoin="miter"/>
<circle cx="1096.92" cy="441.24" r="2.6" fill="#000070"/>
<line x1="628.39" y1="484.36" x2="639.39" y2="484.36" stroke="#8b1010" stroke-width="1.3"/>
<line x1="633.89" y1="484.36" x2="633.89" y2="495.14" stroke="#8b1010" stroke-width="1.1"/>
<text x="633.89" y="482.36" class="S" font-size="9.5" fill="#8b1a1a" stroke="#8b1a1a" text-anchor="middle">5V_IN</text>
<polyline points="633.89,495.14 633.89,505.92" stroke="#16165c" stroke-width="1.2" fill="none" stroke-linejoin="miter"/>
<polyline points="601.59,505.92 676.96,505.92" stroke="#16165c" stroke-width="1.2" fill="none" stroke-linejoin="miter"/>
<circle cx="633.89" cy="505.92" r="2.6" fill="#000070"/>
<line x1="676.96" y1="505.92" x2="690.92" y2="505.92" stroke="#303030" stroke-width="1.1"/>
<line x1="695.32" y1="505.92" x2="709.27" y2="505.92" stroke="#303030" stroke-width="1.1"/>
<line x1="690.92" y1="497.42" x2="690.92" y2="514.42" stroke="#1a1ac4" stroke-width="1.25"/>
<line x1="695.32" y1="497.42" x2="695.32" y2="514.42" stroke="#1a1ac4" stroke-width="1.25"/>
<text x="665.92" y="503.92" class="S" font-size="9.3" fill="#1a1a1a" stroke="#1a1a1a">C30</text>
<text x="697.72" y="503.92" class="R" font-size="9.8" fill="#2c2c8c" stroke="#2c2c8c">0.22µF</text>
<polyline points="709.27,505.92 741.57,505.92 741.57,516.7" stroke="#16165c" stroke-width="1.2" fill="none" stroke-linejoin="miter"/>
<line x1="741.57" y1="516.7" x2="741.57" y2="527.48" stroke="#8b1010" stroke-width="1.1"/>
<line x1="730.57" y1="527.48" x2="752.57" y2="527.48" stroke="#8b1010" stroke-width="1.3"/>
<line x1="733.57" y1="530.98" x2="749.57" y2="530.98" stroke="#8b1010" stroke-width="1.3"/>
<line x1="736.77" y1="534.18" x2="746.37" y2="534.18" stroke="#8b1010" stroke-width="1.3"/>
<line x1="740.37" y1="537.28" x2="742.77" y2="537.28" stroke="#8b1010" stroke-width="1.3"/>
<text x="741.57" y="546.28" class="S" font-size="9.45" fill="#8b1a1a" stroke="#8b1a1a" text-anchor="middle">GND</text>
<polyline points="601.59,527.48 612.36,527.48 612.36,559.82" stroke="#16165c" stroke-width="1.2" fill="none" stroke-linejoin="miter"/>
<polyline points="601.59,538.26 612.36,538.26" stroke="#16165c" stroke-width="1.2" fill="none" stroke-linejoin="miter"/>
<polyline points="601.59,549.04 612.36,549.04" stroke="#16165c" stroke-width="1.2" fill="none" stroke-linejoin="miter"/>
<circle cx="612.36" cy="538.26" r="2.6" fill="#000070"/>
<circle cx="612.36" cy="549.04" r="2.6" fill="#000070"/>
<line x1="612.36" y1="559.82" x2="612.36" y2="570.6" stroke="#8b1010" stroke-width="1.1"/>
<line x1="601.36" y1="570.6" x2="623.36" y2="570.6" stroke="#8b1010" stroke-width="1.3"/>
<line x1="604.36" y1="574.1" x2="620.36" y2="574.1" stroke="#8b1010" stroke-width="1.3"/>
<line x1="607.56" y1="577.3" x2="617.16" y2="577.3" stroke="#8b1010" stroke-width="1.3"/>
<line x1="611.16" y1="580.4" x2="613.56" y2="580.4" stroke="#8b1010" stroke-width="1.3"/>
<text x="612.36" y="589.4" class="S" font-size="9.45" fill="#8b1a1a" stroke="#8b1a1a" text-anchor="middle">GND</text>
<line x1="800.68" y1="139.4" x2="811.68" y2="139.4" stroke="#8b1010" stroke-width="1.3"/>
<line x1="806.18" y1="139.4" x2="806.18" y2="150.18" stroke="#8b1010" stroke-width="1.1"/>
<text x="806.18" y="137.4" class="S" font-size="9.5" fill="#8b1a1a" stroke="#8b1a1a" text-anchor="middle">PMIC_3V3</text>
<polyline points="806.18,150.18 806.18,484.36" stroke="#16165c" stroke-width="1.2" fill="none" stroke-linejoin="miter"/>
<line x1="806.18" y1="484.36" x2="806.18" y2="498.43" stroke="#303030" stroke-width="1.1"/>
<line x1="806.18" y1="502.63" x2="806.18" y2="516.7" stroke="#303030" stroke-width="1.1"/>
<line x1="797.28" y1="498.43" x2="815.08" y2="498.43" stroke="#1a1ac4" stroke-width="1.25"/>
<line x1="797.28" y1="502.63" x2="815.08" y2="502.63" stroke="#1a1ac4" stroke-width="1.25"/>
<text x="815.78" y="503.03" class="S" font-size="9.3" fill="#1a1a1a" stroke="#1a1a1a">C44</text>
<text x="816.58" y="514.63" class="R" font-size="9.8" fill="#2c2c8c" stroke="#2c2c8c">22uF</text>
<polyline points="806.18,516.7 806.18,549.04 1096.92,549.04 1096.92,538.26" stroke="#16165c" stroke-width="1.2" fill="none" stroke-linejoin="miter"/>
<line x1="876.06" y1="214.86" x2="887.06" y2="214.86" stroke="#8b1010" stroke-width="1.3"/>
<line x1="881.56" y1="214.86" x2="881.56" y2="225.64" stroke="#8b1010" stroke-width="1.1"/>
<text x="881.56" y="212.86" class="S" font-size="9.5" fill="#8b1a1a" stroke="#8b1a1a" text-anchor="middle">PMIC_1V2</text>
<polyline points="881.56,225.64 881.56,484.36" stroke="#16165c" stroke-width="1.2" fill="none" stroke-linejoin="miter"/>
<line x1="962.2" y1="311.88" x2="973.2" y2="311.88" stroke="#8b1010" stroke-width="1.3"/>
<line x1="967.7" y1="311.88" x2="967.7" y2="322.66" stroke="#8b1010" stroke-width="1.1"/>
<text x="967.7" y="309.88" class="S" font-size="9.5" fill="#8b1a1a" stroke="#8b1a1a" text-anchor="middle">PMIC_1V0</text>
<polyline points="967.7,322.66 967.7,484.36" stroke="#16165c" stroke-width="1.2" fill="none" stroke-linejoin="miter"/>
<line x1="1091.42" y1="344.22" x2="1102.42" y2="344.22" stroke="#8b1010" stroke-width="1.3"/>
<line x1="1096.92" y1="344.22" x2="1096.92" y2="355" stroke="#8b1010" stroke-width="1.1"/>
<text x="1096.92" y="342.22" class="S" font-size="9.5" fill="#8b1a1a" stroke="#8b1a1a" text-anchor="middle">PMIC_1V8</text>
<polyline points="1096.92,355 1096.92,484.36" stroke="#16165c" stroke-width="1.2" fill="none" stroke-linejoin="miter"/>
<polyline points="881.56,462.8 924.63,462.8 924.63,484.36" stroke="#16165c" stroke-width="1.2" fill="none" stroke-linejoin="miter"/>
<polyline points="881.56,516.7 881.56,538.26 924.63,538.26 924.63,516.7" stroke="#16165c" stroke-width="1.2" fill="none" stroke-linejoin="miter"/>
<circle cx="881.56" cy="462.8" r="2.6" fill="#000070"/>
<circle cx="881.56" cy="538.26" r="2.6" fill="#000070"/>
<polyline points="967.7,462.8 1053.84,462.8 1053.84,484.36" stroke="#16165c" stroke-width="1.2" fill="none" stroke-linejoin="miter"/>
<polyline points="967.7,516.7 967.7,538.26 1053.84,538.26 1053.84,516.7" stroke="#16165c" stroke-width="1.2" fill="none" stroke-linejoin="miter"/>
<polyline points="1010.77,462.8 1010.77,484.36" stroke="#16165c" stroke-width="1.2" fill="none" stroke-linejoin="miter"/>
<polyline points="1010.77,516.7 1010.77,538.26" stroke="#16165c" stroke-width="1.2" fill="none" stroke-linejoin="miter"/>
<circle cx="967.7" cy="462.8" r="2.6" fill="#000070"/>
<circle cx="967.7" cy="538.26" r="2.6" fill="#000070"/>
<circle cx="1010.77" cy="462.8" r="2.6" fill="#000070"/>
<circle cx="1010.77" cy="538.26" r="2.6" fill="#000070"/>
<polyline points="1096.92,462.8 1139.99,462.8 1139.99,484.36" stroke="#16165c" stroke-width="1.2" fill="none" stroke-linejoin="miter"/>
<polyline points="1096.92,516.7 1096.92,538.26 1139.99,538.26 1139.99,516.7" stroke="#16165c" stroke-width="1.2" fill="none" stroke-linejoin="miter"/>
<circle cx="1096.92" cy="462.8" r="2.6" fill="#000070"/>
<circle cx="1096.92" cy="538.26" r="2.6" fill="#000070"/>
<line x1="881.56" y1="484.36" x2="881.56" y2="498.43" stroke="#303030" stroke-width="1.1"/>
<line x1="881.56" y1="502.63" x2="881.56" y2="516.7" stroke="#303030" stroke-width="1.1"/>
<line x1="872.66" y1="498.43" x2="890.46" y2="498.43" stroke="#1a1ac4" stroke-width="1.25"/>
<line x1="872.66" y1="502.63" x2="890.46" y2="502.63" stroke="#1a1ac4" stroke-width="1.25"/>
<text x="891.16" y="503.03" class="S" font-size="9.3" fill="#1a1a1a" stroke="#1a1a1a">C45</text>
<text x="891.96" y="514.63" class="R" font-size="9.8" fill="#2c2c8c" stroke="#2c2c8c">22uF</text>
<line x1="924.63" y1="484.36" x2="924.63" y2="498.43" stroke="#303030" stroke-width="1.1"/>
<line x1="924.63" y1="502.63" x2="924.63" y2="516.7" stroke="#303030" stroke-width="1.1"/>
<line x1="915.73" y1="498.43" x2="933.53" y2="498.43" stroke="#1a1ac4" stroke-width="1.25"/>
<line x1="915.73" y1="502.63" x2="933.53" y2="502.63" stroke="#1a1ac4" stroke-width="1.25"/>
<text x="934.23" y="503.03" class="S" font-size="9.3" fill="#1a1a1a" stroke="#1a1a1a">C77</text>
<text x="935.03" y="514.63" class="R" font-size="9.8" fill="#2c2c8c" stroke="#2c2c8c">22uF</text>
<line x1="967.7" y1="484.36" x2="967.7" y2="498.43" stroke="#303030" stroke-width="1.1"/>
<line x1="967.7" y1="502.63" x2="967.7" y2="516.7" stroke="#303030" stroke-width="1.1"/>
<line x1="958.8" y1="498.43" x2="976.6" y2="498.43" stroke="#1a1ac4" stroke-width="1.25"/>
<line x1="958.8" y1="502.63" x2="976.6" y2="502.63" stroke="#1a1ac4" stroke-width="1.25"/>
<text x="977.3" y="503.03" class="S" font-size="9.3" fill="#1a1a1a" stroke="#1a1a1a">C46</text>
<text x="978.1" y="514.63" class="R" font-size="9.8" fill="#2c2c8c" stroke="#2c2c8c">22uF</text>
<line x1="1010.77" y1="484.36" x2="1010.77" y2="498.43" stroke="#303030" stroke-width="1.1"/>
<line x1="1010.77" y1="502.63" x2="1010.77" y2="516.7" stroke="#303030" stroke-width="1.1"/>
<line x1="1001.87" y1="498.43" x2="1019.67" y2="498.43" stroke="#1a1ac4" stroke-width="1.25"/>
<line x1="1001.87" y1="502.63" x2="1019.67" y2="502.63" stroke="#1a1ac4" stroke-width="1.25"/>
<text x="1020.37" y="503.03" class="S" font-size="9.3" fill="#1a1a1a" stroke="#1a1a1a">C54</text>
<text x="1021.17" y="514.63" class="R" font-size="9.8" fill="#2c2c8c" stroke="#2c2c8c">22uF</text>
<line x1="1053.84" y1="484.36" x2="1053.84" y2="498.43" stroke="#303030" stroke-width="1.1"/>
<line x1="1053.84" y1="502.63" x2="1053.84" y2="516.7" stroke="#303030" stroke-width="1.1"/>
<line x1="1044.94" y1="498.43" x2="1062.74" y2="498.43" stroke="#1a1ac4" stroke-width="1.25"/>
<line x1="1044.94" y1="502.63" x2="1062.74" y2="502.63" stroke="#1a1ac4" stroke-width="1.25"/>
<text x="1063.44" y="503.03" class="S" font-size="9.3" fill="#1a1a1a" stroke="#1a1a1a">C49</text>
<text x="1064.24" y="514.63" class="R" font-size="9.8" fill="#2c2c8c" stroke="#2c2c8c">22uF</text>
<line x1="1096.92" y1="484.36" x2="1096.92" y2="498.43" stroke="#303030" stroke-width="1.1"/>
<line x1="1096.92" y1="502.63" x2="1096.92" y2="516.7" stroke="#303030" stroke-width="1.1"/>
<line x1="1088.02" y1="498.43" x2="1105.82" y2="498.43" stroke="#1a1ac4" stroke-width="1.25"/>
<line x1="1088.02" y1="502.63" x2="1105.82" y2="502.63" stroke="#1a1ac4" stroke-width="1.25"/>
<text x="1106.52" y="503.03" class="S" font-size="9.3" fill="#1a1a1a" stroke="#1a1a1a">C47</text>
<text x="1107.32" y="514.63" class="R" font-size="9.8" fill="#2c2c8c" stroke="#2c2c8c">22uF</text>
<line x1="1139.99" y1="484.36" x2="1139.99" y2="498.43" stroke="#303030" stroke-width="1.1"/>
<line x1="1139.99" y1="502.63" x2="1139.99" y2="516.7" stroke="#303030" stroke-width="1.1"/>
<line x1="1131.09" y1="498.43" x2="1148.89" y2="498.43" stroke="#1a1ac4" stroke-width="1.25"/>
<line x1="1131.09" y1="502.63" x2="1148.89" y2="502.63" stroke="#1a1ac4" stroke-width="1.25"/>
<text x="1149.59" y="503.03" class="S" font-size="9.3" fill="#1a1a1a" stroke="#1a1a1a">C48</text>
<text x="1150.39" y="514.63" class="R" font-size="9.8" fill="#2c2c8c" stroke="#2c2c8c">22uF</text>
<circle cx="881.56" cy="549.04" r="2.6" fill="#000070"/>
<circle cx="967.7" cy="549.04" r="2.6" fill="#000070"/>
<circle cx="946.16" cy="549.04" r="2.6" fill="#000070"/>
<polyline points="881.56,538.26 881.56,549.04" stroke="#16165c" stroke-width="1.2" fill="none" stroke-linejoin="miter"/>
<polyline points="967.7,538.26 967.7,549.04" stroke="#16165c" stroke-width="1.2" fill="none" stroke-linejoin="miter"/>
<line x1="946.16" y1="549.04" x2="946.16" y2="559.82" stroke="#8b1010" stroke-width="1.1"/>
<line x1="935.16" y1="559.82" x2="957.16" y2="559.82" stroke="#8b1010" stroke-width="1.3"/>
<line x1="938.16" y1="563.32" x2="954.16" y2="563.32" stroke="#8b1010" stroke-width="1.3"/>
<line x1="941.36" y1="566.52" x2="950.96" y2="566.52" stroke="#8b1010" stroke-width="1.3"/>
<line x1="944.96" y1="569.62" x2="947.36" y2="569.62" stroke="#8b1010" stroke-width="1.3"/>
<text x="946.16" y="578.62" class="S" font-size="9.45" fill="#8b1a1a" stroke="#8b1a1a" text-anchor="middle">GND</text>
<text x="1452.2" y="167.8" class="R" font-size="19.45" fill="#000" font-weight="bold">5V LED INDICATION</text>
<line x1="1543.67" y1="204.08" x2="1554.67" y2="204.08" stroke="#8b1010" stroke-width="1.3"/>
<line x1="1549.17" y1="204.08" x2="1549.17" y2="214.86" stroke="#8b1010" stroke-width="1.1"/>
<text x="1549.17" y="202.08" class="S" font-size="9.5" fill="#8b1a1a" stroke="#8b1a1a" text-anchor="middle">5V_IN</text>
<polyline points="1549.17,214.86 1549.17,225.64" stroke="#16165c" stroke-width="1.2" fill="none" stroke-linejoin="miter"/>
<line x1="1549.17" y1="225.64" x2="1549.17" y2="231.14" stroke="#303030" stroke-width="1.1"/>
<line x1="1549.17" y1="231.14" x2="1549.17" y2="240.6" stroke="#1a1ac4" stroke-width="1.1"/>
<polyline points="1549.17,240.6 1551.77,241.7 1546.57,243.9 1551.77,246.1 1546.57,248.3 1551.77,250.5 1546.57,252.7 1549.17,253.8" stroke="#1a1ac4" stroke-width="1.2" fill="none" stroke-linejoin="miter"/>
<line x1="1549.17" y1="253.8" x2="1549.17" y2="263.26" stroke="#1a1ac4" stroke-width="1.1"/>
<line x1="1549.17" y1="263.26" x2="1549.17" y2="268.76" stroke="#303030" stroke-width="1.1"/>
<text x="1560.2" y="245.5" class="S" font-size="9.3" fill="#2c2c8c" stroke="#2c2c8c">R39</text>
<text x="1559.7" y="255.3" class="R" font-size="9.8" fill="#2c2c8c" stroke="#2c2c8c">510</text>
<polyline points="1549.17,268.76 1549.17,301.1" stroke="#16165c" stroke-width="1.2" fill="none" stroke-linejoin="miter"/>
<line x1="1549.17" y1="301.1" x2="1549.17" y2="324.7" stroke="#303030" stroke-width="1.1"/>
<line x1="1549.17" y1="342.4" x2="1549.17" y2="365.78" stroke="#303030" stroke-width="1.1"/>
<polygon points="1538,324.7 1560.4,324.7 1549.17,341.8" stroke="#0000ff" stroke-width="0.8" fill="#0000ff" stroke-linejoin="miter"/>
<line x1="1538" y1="342.4" x2="1560.4" y2="342.4" stroke="#0000ff" stroke-width="1.3"/>
<line x1="1558.6" y1="334.3" x2="1566.1" y2="341.8" stroke="#0000ff" stroke-width="1.2"/>
<polygon points="1566.1,341.8 1561.5,340.46 1564.76,337.2" stroke="#0000ff" stroke-width="0.6" fill="#0000ff" stroke-linejoin="miter"/>
<line x1="1562.9" y1="330" x2="1570.7" y2="337.5" stroke="#0000ff" stroke-width="1.2"/>
<polygon points="1570.7,337.5 1566.08,336.25 1569.27,332.93" stroke="#0000ff" stroke-width="0.6" fill="#0000ff" stroke-linejoin="miter"/>
<text x="1570.9" y="332.7" class="S" font-size="9.3" fill="#1a1a1a" stroke="#1a1a1a">LD1</text>
<text x="0" y="0" class="S" font-size="8.4" fill="#1a1a1a" text-anchor="middle" transform="translate(1547.2 313.4) rotate(-90)">1</text>
<text x="0" y="0" class="S" font-size="8.4" fill="#1a1a1a" text-anchor="middle" transform="translate(1547.2 353.6) rotate(-90)">2</text>
<polyline points="1549.17,365.78 1549.17,419.68" stroke="#16165c" stroke-width="1.2" fill="none" stroke-linejoin="miter"/>
<line x1="1549.17" y1="419.68" x2="1549.17" y2="430.46" stroke="#8b1010" stroke-width="1.1"/>
<line x1="1538.17" y1="430.46" x2="1560.17" y2="430.46" stroke="#8b1010" stroke-width="1.3"/>
<line x1="1541.17" y1="433.96" x2="1557.17" y2="433.96" stroke="#8b1010" stroke-width="1.3"/>
<line x1="1544.37" y1="437.16" x2="1553.97" y2="437.16" stroke="#8b1010" stroke-width="1.3"/>
<line x1="1547.97" y1="440.26" x2="1550.37" y2="440.26" stroke="#8b1010" stroke-width="1.3"/>
<text x="1549.17" y="449.26" class="S" font-size="9.45" fill="#8b1a1a" stroke="#8b1a1a" text-anchor="middle">GND</text>
<line x1="57.69" y1="635.28" x2="68.69" y2="635.28" stroke="#8b1010" stroke-width="1.3"/>
<line x1="63.19" y1="635.28" x2="63.19" y2="646.06" stroke="#8b1010" stroke-width="1.1"/>
<text x="63.19" y="633.28" class="S" font-size="9.5" fill="#8b1a1a" stroke="#8b1a1a" text-anchor="middle">5V_IN</text>
<polyline points="63.19,646.06 63.19,656.84 224.71,656.84" stroke="#16165c" stroke-width="1.2" fill="none" stroke-linejoin="miter"/>
<polyline points="63.19,753.86 224.71,753.86" stroke="#16165c" stroke-width="1.2" fill="none" stroke-linejoin="miter"/>
<polyline points="63.19,656.84 63.19,689.18" stroke="#16165c" stroke-width="1.2" fill="none" stroke-linejoin="miter"/>
<line x1="63.19" y1="689.18" x2="63.19" y2="703.25" stroke="#303030" stroke-width="1.1"/>
<line x1="63.19" y1="707.45" x2="63.19" y2="721.52" stroke="#303030" stroke-width="1.1"/>
<line x1="54.29" y1="703.25" x2="72.09" y2="703.25" stroke="#1a1ac4" stroke-width="1.25"/>
<line x1="54.29" y1="707.45" x2="72.09" y2="707.45" stroke="#1a1ac4" stroke-width="1.25"/>
<text x="72.79" y="707.85" class="S" font-size="9.3" fill="#1a1a1a" stroke="#1a1a1a">C50</text>
<text x="73.59" y="718.15" class="R" font-size="9.8" fill="#2c2c8c" stroke="#2c2c8c">10µF</text>
<polyline points="63.19,721.52 63.19,753.86" stroke="#16165c" stroke-width="1.2" fill="none" stroke-linejoin="miter"/>
<circle cx="63.19" cy="656.84" r="2.6" fill="#000070"/>
<circle cx="63.19" cy="753.86" r="2.6" fill="#000070"/>
<polyline points="117.03,656.84 117.03,689.18" stroke="#16165c" stroke-width="1.2" fill="none" stroke-linejoin="miter"/>
<line x1="117.03" y1="689.18" x2="117.03" y2="703.25" stroke="#303030" stroke-width="1.1"/>
<line x1="117.03" y1="707.45" x2="117.03" y2="721.52" stroke="#303030" stroke-width="1.1"/>
<line x1="108.13" y1="703.25" x2="125.93" y2="703.25" stroke="#1a1ac4" stroke-width="1.25"/>
<line x1="108.13" y1="707.45" x2="125.93" y2="707.45" stroke="#1a1ac4" stroke-width="1.25"/>
<text x="126.63" y="707.85" class="S" font-size="9.3" fill="#1a1a1a" stroke="#1a1a1a">C51</text>
<text x="127.43" y="718.15" class="R" font-size="9.8" fill="#2c2c8c" stroke="#2c2c8c">10µF</text>
<polyline points="117.03,721.52 117.03,753.86" stroke="#16165c" stroke-width="1.2" fill="none" stroke-linejoin="miter"/>
<circle cx="117.03" cy="656.84" r="2.6" fill="#000070"/>
<circle cx="117.03" cy="753.86" r="2.6" fill="#000070"/>
<polyline points="170.87,656.84 170.87,689.18" stroke="#16165c" stroke-width="1.2" fill="none" stroke-linejoin="miter"/>
<line x1="170.87" y1="689.18" x2="170.87" y2="703.25" stroke="#303030" stroke-width="1.1"/>
<line x1="170.87" y1="707.45" x2="170.87" y2="721.52" stroke="#303030" stroke-width="1.1"/>
<line x1="161.97" y1="703.25" x2="179.77" y2="703.25" stroke="#1a1ac4" stroke-width="1.25"/>
<line x1="161.97" y1="707.45" x2="179.77" y2="707.45" stroke="#1a1ac4" stroke-width="1.25"/>
<text x="180.47" y="707.85" class="S" font-size="9.3" fill="#1a1a1a" stroke="#1a1a1a">C52</text>
<text x="181.27" y="718.15" class="R" font-size="9.8" fill="#2c2c8c" stroke="#2c2c8c">10µF</text>
<polyline points="170.87,721.52 170.87,753.86" stroke="#16165c" stroke-width="1.2" fill="none" stroke-linejoin="miter"/>
<circle cx="170.87" cy="656.84" r="2.6" fill="#000070"/>
<circle cx="170.87" cy="753.86" r="2.6" fill="#000070"/>
<polyline points="224.71,656.84 224.71,689.18" stroke="#16165c" stroke-width="1.2" fill="none" stroke-linejoin="miter"/>
<line x1="224.71" y1="689.18" x2="224.71" y2="703.25" stroke="#303030" stroke-width="1.1"/>
<line x1="224.71" y1="707.45" x2="224.71" y2="721.52" stroke="#303030" stroke-width="1.1"/>
<line x1="215.81" y1="703.25" x2="233.61" y2="703.25" stroke="#1a1ac4" stroke-width="1.25"/>
<line x1="215.81" y1="707.45" x2="233.61" y2="707.45" stroke="#1a1ac4" stroke-width="1.25"/>
<text x="234.31" y="707.85" class="S" font-size="9.3" fill="#1a1a1a" stroke="#1a1a1a">C53</text>
<text x="235.11" y="718.15" class="R" font-size="9.8" fill="#2c2c8c" stroke="#2c2c8c">10µF</text>
<polyline points="224.71,721.52 224.71,753.86" stroke="#16165c" stroke-width="1.2" fill="none" stroke-linejoin="miter"/>
<line x1="63.19" y1="753.86" x2="63.19" y2="764.64" stroke="#8b1010" stroke-width="1.1"/>
<line x1="52.19" y1="764.64" x2="74.19" y2="764.64" stroke="#8b1010" stroke-width="1.3"/>
<line x1="55.19" y1="768.14" x2="71.19" y2="768.14" stroke="#8b1010" stroke-width="1.3"/>
<line x1="58.39" y1="771.34" x2="67.99" y2="771.34" stroke="#8b1010" stroke-width="1.3"/>
<line x1="61.99" y1="774.44" x2="64.39" y2="774.44" stroke="#8b1010" stroke-width="1.3"/>
<text x="63.19" y="783.44" class="S" font-size="9.45" fill="#8b1a1a" stroke="#8b1a1a" text-anchor="middle">GND</text>
<line x1="402.26" y1="635.28" x2="413.26" y2="635.28" stroke="#8b1010" stroke-width="1.3"/>
<line x1="407.76" y1="635.28" x2="407.76" y2="646.06" stroke="#8b1010" stroke-width="1.1"/>
<text x="407.76" y="633.28" class="S" font-size="9.5" fill="#8b1a1a" stroke="#8b1a1a" text-anchor="middle">PMICVIO_3V3</text>
<polyline points="407.76,646.06 407.76,656.84 666.2,656.84" stroke="#16165c" stroke-width="1.2" fill="none" stroke-linejoin="miter"/>
<polyline points="407.76,656.84 407.76,678.4" stroke="#16165c" stroke-width="1.2" fill="none" stroke-linejoin="miter"/>
<line x1="407.76" y1="678.4" x2="407.76" y2="683.9" stroke="#303030" stroke-width="1.1"/>
<line x1="407.76" y1="683.9" x2="407.76" y2="693.36" stroke="#1a1ac4" stroke-width="1.1"/>
<polyline points="407.76,693.36 410.36,694.46 405.16,696.66 410.36,698.86 405.16,701.06 410.36,703.26 405.16,705.46 407.76,706.56" stroke="#1a1ac4" stroke-width="1.2" fill="none" stroke-linejoin="miter"/>
<line x1="407.76" y1="706.56" x2="407.76" y2="716.02" stroke="#1a1ac4" stroke-width="1.1"/>
<line x1="407.76" y1="716.02" x2="407.76" y2="721.52" stroke="#303030" stroke-width="1.1"/>
<text x="418.26" y="697.96" class="S" font-size="9.3" fill="#2c2c8c" stroke="#2c2c8c">R33</text>
<text x="417.76" y="708.96" class="R" font-size="9.8" fill="#2c2c8c" stroke="#2c2c8c">4.99k</text>
<polyline points="407.76,721.52 407.76,753.86" stroke="#16165c" stroke-width="1.2" fill="none" stroke-linejoin="miter"/>
<circle cx="407.76" cy="656.84" r="2.6" fill="#000070"/>
<polyline points="493.91,656.84 493.91,678.4" stroke="#16165c" stroke-width="1.2" fill="none" stroke-linejoin="miter"/>
<line x1="493.91" y1="678.4" x2="493.91" y2="683.9" stroke="#303030" stroke-width="1.1"/>
<line x1="493.91" y1="683.9" x2="493.91" y2="693.36" stroke="#1a1ac4" stroke-width="1.1"/>
<polyline points="493.91,693.36 496.51,694.46 491.31,696.66 496.51,698.86 491.31,701.06 496.51,703.26 491.31,705.46 493.91,706.56" stroke="#1a1ac4" stroke-width="1.2" fill="none" stroke-linejoin="miter"/>
<line x1="493.91" y1="706.56" x2="493.91" y2="716.02" stroke="#1a1ac4" stroke-width="1.1"/>
<line x1="493.91" y1="716.02" x2="493.91" y2="721.52" stroke="#303030" stroke-width="1.1"/>
<text x="504.41" y="697.96" class="S" font-size="9.3" fill="#2c2c8c" stroke="#2c2c8c">R34</text>
<text x="503.91" y="708.96" class="R" font-size="9.8" fill="#2c2c8c" stroke="#2c2c8c">4.99k</text>
<polyline points="493.91,721.52 493.91,753.86" stroke="#16165c" stroke-width="1.2" fill="none" stroke-linejoin="miter"/>
<circle cx="493.91" cy="656.84" r="2.6" fill="#000070"/>
<polyline points="580.05,656.84 580.05,678.4" stroke="#16165c" stroke-width="1.2" fill="none" stroke-linejoin="miter"/>
<line x1="580.05" y1="678.4" x2="580.05" y2="683.9" stroke="#303030" stroke-width="1.1"/>
<line x1="580.05" y1="683.9" x2="580.05" y2="693.36" stroke="#1a1ac4" stroke-width="1.1"/>
<polyline points="580.05,693.36 582.65,694.46 577.45,696.66 582.65,698.86 577.45,701.06 582.65,703.26 577.45,705.46 580.05,706.56" stroke="#1a1ac4" stroke-width="1.2" fill="none" stroke-linejoin="miter"/>
<line x1="580.05" y1="706.56" x2="580.05" y2="716.02" stroke="#1a1ac4" stroke-width="1.1"/>
<line x1="580.05" y1="716.02" x2="580.05" y2="721.52" stroke="#303030" stroke-width="1.1"/>
<text x="590.55" y="697.96" class="S" font-size="9.3" fill="#2c2c8c" stroke="#2c2c8c">R35</text>
<text x="590.05" y="708.96" class="R" font-size="9.8" fill="#2c2c8c" stroke="#2c2c8c">10k</text>
<polyline points="580.05,721.52 580.05,753.86" stroke="#16165c" stroke-width="1.2" fill="none" stroke-linejoin="miter"/>
<circle cx="580.05" cy="656.84" r="2.6" fill="#000070"/>
<polyline points="666.2,656.84 666.2,678.4" stroke="#16165c" stroke-width="1.2" fill="none" stroke-linejoin="miter"/>
<line x1="666.2" y1="678.4" x2="666.2" y2="683.9" stroke="#303030" stroke-width="1.1"/>
<line x1="666.2" y1="683.9" x2="666.2" y2="693.36" stroke="#1a1ac4" stroke-width="1.1"/>
<polyline points="666.2,693.36 668.8,694.46 663.6,696.66 668.8,698.86 663.6,701.06 668.8,703.26 663.6,705.46 666.2,706.56" stroke="#1a1ac4" stroke-width="1.2" fill="none" stroke-linejoin="miter"/>
<line x1="666.2" y1="706.56" x2="666.2" y2="716.02" stroke="#1a1ac4" stroke-width="1.1"/>
<line x1="666.2" y1="716.02" x2="666.2" y2="721.52" stroke="#303030" stroke-width="1.1"/>
<text x="676.7" y="697.96" class="S" font-size="9.3" fill="#2c2c8c" stroke="#2c2c8c">R36</text>
<text x="676.2" y="708.96" class="R" font-size="9.8" fill="#2c2c8c" stroke="#2c2c8c">10k</text>
<polyline points="666.2,721.52 666.2,753.86" stroke="#16165c" stroke-width="1.2" fill="none" stroke-linejoin="miter"/>
<polyline points="343.16,753.86 407.76,753.86" stroke="#16165c" stroke-width="1.2" fill="none" stroke-linejoin="miter"/>
<text x="342.8" y="752.06" class="S" font-size="9.5" fill="#8b1a1a" stroke="#8b1a1a">PMIC_NRST</text>
<polygon points="418.2,753.86 424,748.26 488.5,748.26 488.5,759.46 424,759.46" stroke="#3a3a3a" stroke-width="1.1" fill="#dcd9c5" stroke-linejoin="miter"/>
<text x="453.35" y="757.26" class="S" font-size="9.5" fill="#111" stroke="#111" text-anchor="middle">PMIC_EN1</text>
<polyline points="488.5,753.86 493.91,753.86" stroke="#16165c" stroke-width="1.2" fill="none" stroke-linejoin="miter"/>
<polyline points="526.21,753.86 580.05,753.86" stroke="#16165c" stroke-width="1.2" fill="none" stroke-linejoin="miter"/>
<text x="525.8" y="752.06" class="S" font-size="9.5" fill="#8b1a1a" stroke="#8b1a1a">PMIC_EN2</text>
<polyline points="612.36,753.86 666.2,753.86" stroke="#16165c" stroke-width="1.2" fill="none" stroke-linejoin="miter"/>
<text x="612" y="752.06" class="S" font-size="9.5" fill="#8b1a1a" stroke="#8b1a1a">PMIC_EN3</text>
<line x1="111.53" y1="904.78" x2="122.53" y2="904.78" stroke="#8b1010" stroke-width="1.3"/>
<line x1="117.03" y1="904.78" x2="117.03" y2="915.56" stroke="#8b1010" stroke-width="1.1"/>
<text x="117.03" y="902.78" class="S" font-size="9.5" fill="#8b1a1a" stroke="#8b1a1a" text-anchor="middle">5V_IN</text>
<polyline points="117.03,915.56 117.03,926.34" stroke="#16165c" stroke-width="1.2" fill="none" stroke-linejoin="miter"/>
<line x1="117.03" y1="926.34" x2="117.03" y2="931.84" stroke="#303030" stroke-width="1.1"/>
<line x1="117.03" y1="931.84" x2="117.03" y2="941.3" stroke="#1a1ac4" stroke-width="1.1"/>
<polyline points="117.03,941.3 119.63,942.4 114.43,944.6 119.63,946.8 114.43,949 119.63,951.2 114.43,953.4 117.03,954.5" stroke="#1a1ac4" stroke-width="1.2" fill="none" stroke-linejoin="miter"/>
<line x1="117.03" y1="954.5" x2="117.03" y2="963.96" stroke="#1a1ac4" stroke-width="1.1"/>
<line x1="117.03" y1="963.96" x2="117.03" y2="969.46" stroke="#303030" stroke-width="1.1"/>
<text x="127.53" y="945.9" class="S" font-size="9.3" fill="#2c2c8c" stroke="#2c2c8c">R50</text>
<text x="127.03" y="956.9" class="R" font-size="9.8" fill="#2c2c8c" stroke="#2c2c8c">1k</text>
<polyline points="117.03,969.46 117.03,980.24" stroke="#16165c" stroke-width="1.2" fill="none" stroke-linejoin="miter"/>
<circle cx="117.03" cy="969.46" r="2.6" fill="#000070"/>
<polyline points="117.03,969.46 192.4,969.46 192.4,958.68" stroke="#16165c" stroke-width="1.2" fill="none" stroke-linejoin="miter"/>
<line x1="186.9" y1="947.9" x2="197.9" y2="947.9" stroke="#8b1010" stroke-width="1.3"/>
<line x1="192.4" y1="947.9" x2="192.4" y2="958.68" stroke="#8b1010" stroke-width="1.1"/>
<text x="192.4" y="945.9" class="S" font-size="9.5" fill="#8b1a1a" stroke="#8b1a1a" text-anchor="middle">PMICVIO_3V3</text>
<line x1="117.03" y1="980.24" x2="117.03" y2="985.74" stroke="#303030" stroke-width="1.1"/>
<line x1="117.03" y1="985.74" x2="117.03" y2="995.2" stroke="#1a1ac4" stroke-width="1.1"/>
<polyline points="117.03,995.2 119.63,996.3 114.43,998.5 119.63,1000.7 114.43,1002.9 119.63,1005.1 114.43,1007.3 117.03,1008.4" stroke="#1a1ac4" stroke-width="1.2" fill="none" stroke-linejoin="miter"/>
<line x1="117.03" y1="1008.4" x2="117.03" y2="1017.86" stroke="#1a1ac4" stroke-width="1.1"/>
<line x1="117.03" y1="1017.86" x2="117.03" y2="1023.36" stroke="#303030" stroke-width="1.1"/>
<text x="127.53" y="999.8" class="S" font-size="9.3" fill="#2c2c8c" stroke="#2c2c8c">R52</text>
<text x="127.03" y="1010.8" class="R" font-size="9.8" fill="#2c2c8c" stroke="#2c2c8c">1.96k</text>
<polyline points="117.03,1023.36 117.03,1034.14" stroke="#16165c" stroke-width="1.2" fill="none" stroke-linejoin="miter"/>
<line x1="117.03" y1="1034.14" x2="117.03" y2="1044.92" stroke="#8b1010" stroke-width="1.1"/>
<line x1="106.03" y1="1044.92" x2="128.03" y2="1044.92" stroke="#8b1010" stroke-width="1.3"/>
<line x1="109.03" y1="1048.42" x2="125.03" y2="1048.42" stroke="#8b1010" stroke-width="1.3"/>
<line x1="112.23" y1="1051.62" x2="121.83" y2="1051.62" stroke="#8b1010" stroke-width="1.3"/>
<line x1="115.83" y1="1054.72" x2="118.23" y2="1054.72" stroke="#8b1010" stroke-width="1.3"/>
<text x="117.03" y="1063.72" class="S" font-size="9.45" fill="#8b1a1a" stroke="#8b1a1a" text-anchor="middle">GND</text>
<line x1="402.26" y1="904.78" x2="413.26" y2="904.78" stroke="#8b1010" stroke-width="1.3"/>
<line x1="407.76" y1="904.78" x2="407.76" y2="915.56" stroke="#8b1010" stroke-width="1.1"/>
<text x="407.76" y="902.68" class="R" font-size="9.8" fill="#8b1a1a" stroke="#8b1a1a" text-anchor="middle">PMIC_3V3</text>
<polyline points="407.76,915.56 407.76,926.34 461.6,926.34" stroke="#16165c" stroke-width="1.2" fill="none" stroke-linejoin="miter"/>
<line x1="461.6" y1="926.34" x2="472.6" y2="926.34" stroke="#303030" stroke-width="1.1"/>
<line x1="472.6" y1="926.34" x2="476.34" y2="926.34" stroke="#1a1ac4" stroke-width="1.1"/>
<polyline points="476.34,926.34 477.47,928.44 479.74,924.24 482.01,928.44 484.27,924.24 486.54,928.44 488.81,924.24 489.94,926.34" stroke="#1a1ac4" stroke-width="1.2" fill="none" stroke-linejoin="miter"/>
<line x1="489.94" y1="926.34" x2="493.68" y2="926.34" stroke="#1a1ac4" stroke-width="1.1"/>
<line x1="493.68" y1="926.34" x2="504.68" y2="926.34" stroke="#303030" stroke-width="1.1"/>
<text x="451.2" y="923.74" class="S" font-size="9.3" fill="#1a1a1a" stroke="#1a1a1a">R31</text>
<text x="494.14" y="923.74" class="R" font-size="9.8" fill="#2c2c8c" stroke="#2c2c8c">0</text>
<polyline points="504.68,926.34 579.8,926.34" stroke="#16165c" stroke-width="1.2" fill="none" stroke-linejoin="miter"/>
<circle cx="526.21" cy="926.34" r="2.6" fill="#000070"/>
<polygon points="579.8,920.24 638.9,920.24 644.7,926.34 638.9,932.44 579.8,932.44" stroke="#3a3a3a" stroke-width="1.1" fill="#dcd9c5" stroke-linejoin="miter"/>
<text x="608.6" y="929.74" class="S" font-size="9.5" fill="#111" stroke="#111" text-anchor="middle">PGOOD</text>
<polyline points="526.21,926.34 526.21,947.9" stroke="#16165c" stroke-width="1.2" fill="none" stroke-linejoin="miter"/>
<line x1="526.21" y1="947.9" x2="526.21" y2="953.4" stroke="#303030" stroke-width="1.1"/>
<line x1="526.21" y1="953.4" x2="526.21" y2="962.86" stroke="#1a1ac4" stroke-width="1.1"/>
<polyline points="526.21,962.86 528.81,963.96 523.61,966.16 528.81,968.36 523.61,970.56 528.81,972.76 523.61,974.96 526.21,976.06" stroke="#1a1ac4" stroke-width="1.2" fill="none" stroke-linejoin="miter"/>
<line x1="526.21" y1="976.06" x2="526.21" y2="985.52" stroke="#1a1ac4" stroke-width="1.1"/>
<line x1="526.21" y1="985.52" x2="526.21" y2="991.02" stroke="#303030" stroke-width="1.1"/>
<text x="536.71" y="967.46" class="S" font-size="9.3" fill="#2c2c8c" stroke="#2c2c8c">R37</text>
<text x="536.21" y="978.46" class="R" font-size="9.8" fill="#2c2c8c" stroke="#2c2c8c">100k</text>
<polyline points="526.21,991.02 526.21,1001.8" stroke="#16165c" stroke-width="1.2" fill="none" stroke-linejoin="miter"/>
<line x1="526.21" y1="1001.8" x2="526.21" y2="1012.58" stroke="#8b1010" stroke-width="1.1"/>
<line x1="515.21" y1="1012.58" x2="537.21" y2="1012.58" stroke="#8b1010" stroke-width="1.3"/>
<line x1="518.21" y1="1016.08" x2="534.21" y2="1016.08" stroke="#8b1010" stroke-width="1.3"/>
<line x1="521.41" y1="1019.28" x2="531.01" y2="1019.28" stroke="#8b1010" stroke-width="1.3"/>
<line x1="525.01" y1="1022.38" x2="527.41" y2="1022.38" stroke="#8b1010" stroke-width="1.3"/>
<text x="526.21" y="1031.38" class="S" font-size="9.45" fill="#8b1a1a" stroke="#8b1a1a" text-anchor="middle">GND</text>
<polyline points="881.56,710.74 881.56,904.78" stroke="#16165c" stroke-width="1.2" fill="none" stroke-linejoin="miter"/>
<polyline points="881.56,710.74 913.86,710.74" stroke="#16165c" stroke-width="1.2" fill="none" stroke-linejoin="miter"/>
<line x1="913.86" y1="710.74" x2="927.81" y2="710.74" stroke="#303030" stroke-width="1.1"/>
<line x1="932.21" y1="710.74" x2="946.16" y2="710.74" stroke="#303030" stroke-width="1.1"/>
<line x1="927.81" y1="702.24" x2="927.81" y2="719.24" stroke="#1a1ac4" stroke-width="1.25"/>
<line x1="932.21" y1="702.24" x2="932.21" y2="719.24" stroke="#1a1ac4" stroke-width="1.25"/>
<text x="902.81" y="708.74" class="S" font-size="9.3" fill="#1a1a1a" stroke="#1a1a1a">C31</text>
<text x="934.61" y="708.74" class="R" font-size="9.8" fill="#2c2c8c" stroke="#2c2c8c">390pF</text>
<polyline points="946.16,710.74 1043.08,710.74" stroke="#16165c" stroke-width="1.2" fill="none" stroke-linejoin="miter"/>
<text x="978.4" y="708.84" class="R" font-size="9.8" fill="#8b1a1a" stroke="#8b1a1a">SW0_CAP</text>
<line x1="1043.08" y1="710.74" x2="1054.08" y2="710.74" stroke="#303030" stroke-width="1.1"/>
<line x1="1054.08" y1="710.74" x2="1057.81" y2="710.74" stroke="#1a1ac4" stroke-width="1.1"/>
<polyline points="1057.81,710.74 1058.95,712.84 1061.21,708.64 1063.48,712.84 1065.75,708.64 1068.01,712.84 1070.28,708.64 1071.41,710.74" stroke="#1a1ac4" stroke-width="1.2" fill="none" stroke-linejoin="miter"/>
<line x1="1071.41" y1="710.74" x2="1075.15" y2="710.74" stroke="#1a1ac4" stroke-width="1.1"/>
<line x1="1075.15" y1="710.74" x2="1086.15" y2="710.74" stroke="#303030" stroke-width="1.1"/>
<text x="1032.88" y="708.84" class="S" font-size="9.3" fill="#1a1a1a" stroke="#1a1a1a">R53</text>
<text x="1075.41" y="708.84" class="R" font-size="9.8" fill="#2c2c8c" stroke="#2c2c8c">3.83</text>
<polyline points="1086.15,710.74 1139.99,710.74" stroke="#16165c" stroke-width="1.2" fill="none" stroke-linejoin="miter"/>
<text x="1139.6" y="708.84" class="S" font-size="9.4" fill="#8b1a1a" stroke="#8b1a1a" text-anchor="end">SW0</text>
<polyline points="881.56,775.42 913.86,775.42" stroke="#16165c" stroke-width="1.2" fill="none" stroke-linejoin="miter"/>
<line x1="913.86" y1="775.42" x2="927.81" y2="775.42" stroke="#303030" stroke-width="1.1"/>
<line x1="932.21" y1="775.42" x2="946.16" y2="775.42" stroke="#303030" stroke-width="1.1"/>
<line x1="927.81" y1="766.92" x2="927.81" y2="783.92" stroke="#1a1ac4" stroke-width="1.25"/>
<line x1="932.21" y1="766.92" x2="932.21" y2="783.92" stroke="#1a1ac4" stroke-width="1.25"/>
<text x="902.81" y="773.42" class="S" font-size="9.3" fill="#1a1a1a" stroke="#1a1a1a">C32</text>
<text x="934.61" y="773.42" class="R" font-size="9.8" fill="#2c2c8c" stroke="#2c2c8c">390pF</text>
<polyline points="946.16,775.42 1043.08,775.42" stroke="#16165c" stroke-width="1.2" fill="none" stroke-linejoin="miter"/>
<text x="978.4" y="773.52" class="R" font-size="9.8" fill="#8b1a1a" stroke="#8b1a1a">SW1_CAP</text>
<line x1="1043.08" y1="775.42" x2="1054.08" y2="775.42" stroke="#303030" stroke-width="1.1"/>
<line x1="1054.08" y1="775.42" x2="1057.81" y2="775.42" stroke="#1a1ac4" stroke-width="1.1"/>
<polyline points="1057.81,775.42 1058.95,777.52 1061.21,773.32 1063.48,777.52 1065.75,773.32 1068.01,777.52 1070.28,773.32 1071.41,775.42" stroke="#1a1ac4" stroke-width="1.2" fill="none" stroke-linejoin="miter"/>
<line x1="1071.41" y1="775.42" x2="1075.15" y2="775.42" stroke="#1a1ac4" stroke-width="1.1"/>
<line x1="1075.15" y1="775.42" x2="1086.15" y2="775.42" stroke="#303030" stroke-width="1.1"/>
<text x="1032.88" y="773.52" class="S" font-size="9.3" fill="#1a1a1a" stroke="#1a1a1a">R54</text>
<text x="1075.41" y="773.52" class="R" font-size="9.8" fill="#2c2c8c" stroke="#2c2c8c">3.83</text>
<polyline points="1086.15,775.42 1139.99,775.42" stroke="#16165c" stroke-width="1.2" fill="none" stroke-linejoin="miter"/>
<text x="1139.6" y="773.52" class="S" font-size="9.4" fill="#8b1a1a" stroke="#8b1a1a" text-anchor="end">SW1</text>
<circle cx="881.56" cy="775.42" r="2.6" fill="#000070"/>
<polyline points="881.56,840.1 913.86,840.1" stroke="#16165c" stroke-width="1.2" fill="none" stroke-linejoin="miter"/>
<line x1="913.86" y1="840.1" x2="927.81" y2="840.1" stroke="#303030" stroke-width="1.1"/>
<line x1="932.21" y1="840.1" x2="946.16" y2="840.1" stroke="#303030" stroke-width="1.1"/>
<line x1="927.81" y1="831.6" x2="927.81" y2="848.6" stroke="#1a1ac4" stroke-width="1.25"/>
<line x1="932.21" y1="831.6" x2="932.21" y2="848.6" stroke="#1a1ac4" stroke-width="1.25"/>
<text x="902.81" y="838.1" class="S" font-size="9.3" fill="#1a1a1a" stroke="#1a1a1a">C33</text>
<text x="934.61" y="838.1" class="R" font-size="9.8" fill="#2c2c8c" stroke="#2c2c8c">390pF</text>
<polyline points="946.16,840.1 1043.08,840.1" stroke="#16165c" stroke-width="1.2" fill="none" stroke-linejoin="miter"/>
<text x="978.4" y="838.2" class="R" font-size="9.8" fill="#8b1a1a" stroke="#8b1a1a">SW2_CAP</text>
<line x1="1043.08" y1="840.1" x2="1054.08" y2="840.1" stroke="#303030" stroke-width="1.1"/>
<line x1="1054.08" y1="840.1" x2="1057.81" y2="840.1" stroke="#1a1ac4" stroke-width="1.1"/>
<polyline points="1057.81,840.1 1058.95,842.2 1061.21,838 1063.48,842.2 1065.75,838 1068.01,842.2 1070.28,838 1071.41,840.1" stroke="#1a1ac4" stroke-width="1.2" fill="none" stroke-linejoin="miter"/>
<line x1="1071.41" y1="840.1" x2="1075.15" y2="840.1" stroke="#1a1ac4" stroke-width="1.1"/>
<line x1="1075.15" y1="840.1" x2="1086.15" y2="840.1" stroke="#303030" stroke-width="1.1"/>
<text x="1032.88" y="838.2" class="S" font-size="9.3" fill="#1a1a1a" stroke="#1a1a1a">R55</text>
<text x="1075.41" y="838.2" class="R" font-size="9.8" fill="#2c2c8c" stroke="#2c2c8c">3.83</text>
<polyline points="1086.15,840.1 1139.99,840.1" stroke="#16165c" stroke-width="1.2" fill="none" stroke-linejoin="miter"/>
<text x="1139.6" y="838.2" class="S" font-size="9.4" fill="#8b1a1a" stroke="#8b1a1a" text-anchor="end">SW2</text>
<circle cx="881.56" cy="840.1" r="2.6" fill="#000070"/>
<polyline points="881.56,904.78 913.86,904.78" stroke="#16165c" stroke-width="1.2" fill="none" stroke-linejoin="miter"/>
<line x1="913.86" y1="904.78" x2="927.81" y2="904.78" stroke="#303030" stroke-width="1.1"/>
<line x1="932.21" y1="904.78" x2="946.16" y2="904.78" stroke="#303030" stroke-width="1.1"/>
<line x1="927.81" y1="896.28" x2="927.81" y2="913.28" stroke="#1a1ac4" stroke-width="1.25"/>
<line x1="932.21" y1="896.28" x2="932.21" y2="913.28" stroke="#1a1ac4" stroke-width="1.25"/>
<text x="902.81" y="902.78" class="S" font-size="9.3" fill="#1a1a1a" stroke="#1a1a1a">C34</text>
<text x="934.61" y="902.78" class="R" font-size="9.8" fill="#2c2c8c" stroke="#2c2c8c">390pF</text>
<polyline points="946.16,904.78 1043.08,904.78" stroke="#16165c" stroke-width="1.2" fill="none" stroke-linejoin="miter"/>
<text x="978.4" y="902.88" class="R" font-size="9.8" fill="#8b1a1a" stroke="#8b1a1a">SW3_CAP</text>
<line x1="1043.08" y1="904.78" x2="1054.08" y2="904.78" stroke="#303030" stroke-width="1.1"/>
<line x1="1054.08" y1="904.78" x2="1057.81" y2="904.78" stroke="#1a1ac4" stroke-width="1.1"/>
<polyline points="1057.81,904.78 1058.95,906.88 1061.21,902.68 1063.48,906.88 1065.75,902.68 1068.01,906.88 1070.28,902.68 1071.41,904.78" stroke="#1a1ac4" stroke-width="1.2" fill="none" stroke-linejoin="miter"/>
<line x1="1071.41" y1="904.78" x2="1075.15" y2="904.78" stroke="#1a1ac4" stroke-width="1.1"/>
<line x1="1075.15" y1="904.78" x2="1086.15" y2="904.78" stroke="#303030" stroke-width="1.1"/>
<text x="1032.88" y="902.88" class="S" font-size="9.3" fill="#1a1a1a" stroke="#1a1a1a">R56</text>
<text x="1075.41" y="902.88" class="R" font-size="9.8" fill="#2c2c8c" stroke="#2c2c8c">3.83</text>
<polyline points="1086.15,904.78 1139.99,904.78" stroke="#16165c" stroke-width="1.2" fill="none" stroke-linejoin="miter"/>
<text x="1139.6" y="902.88" class="S" font-size="9.4" fill="#8b1a1a" stroke="#8b1a1a" text-anchor="end">SW3</text>
<circle cx="881.56" cy="904.78" r="2.6" fill="#000070"/>
<line x1="881.56" y1="904.78" x2="881.56" y2="915.56" stroke="#8b1010" stroke-width="1.1"/>
<line x1="870.56" y1="915.56" x2="892.56" y2="915.56" stroke="#8b1010" stroke-width="1.3"/>
<line x1="873.56" y1="919.06" x2="889.56" y2="919.06" stroke="#8b1010" stroke-width="1.3"/>
<line x1="876.76" y1="922.26" x2="886.36" y2="922.26" stroke="#8b1010" stroke-width="1.3"/>
<line x1="880.36" y1="925.36" x2="882.76" y2="925.36" stroke="#8b1010" stroke-width="1.3"/>
<text x="881.56" y="934.36" class="S" font-size="9.45" fill="#8b1a1a" stroke="#8b1a1a" text-anchor="middle">GND</text>
<line x1="1269.3" y1="570.1" x2="1785.7" y2="570.1" stroke="#222" stroke-width="1.2"/>
<line x1="1269.3" y1="570.1" x2="1269.3" y2="1023.3" stroke="#222" stroke-width="1.2"/>
<text x="1488.6" y="609.8" class="R" font-size="19.45" fill="#000" font-weight="bold">LDO BYPASS</text>
<line x1="1296.01" y1="646.06" x2="1307.01" y2="646.06" stroke="#8b1010" stroke-width="1.3"/>
<line x1="1301.51" y1="646.06" x2="1301.51" y2="656.84" stroke="#8b1010" stroke-width="1.1"/>
<text x="1301.51" y="644.06" class="S" font-size="9.5" fill="#8b1a1a" stroke="#8b1a1a" text-anchor="middle">PMIC_1V8</text>
<polyline points="1301.51,656.84 1301.51,699.96 1333.81,699.96" stroke="#16165c" stroke-width="1.2" fill="none" stroke-linejoin="miter"/>
<line x1="1333.81" y1="699.96" x2="1352.23" y2="699.96" stroke="#303030" stroke-width="1.1"/>
<line x1="1369.23" y1="699.96" x2="1387.65" y2="699.96" stroke="#303030" stroke-width="1.1"/>
<rect x="1352.13" y="696.26" width="17.2" height="7.4" transform="rotate(-45 1360.73 699.96)" fill="#fff" stroke="#1a1ac4" stroke-width="1.2"/>
<text x="1344.33" y="697.36" class="S" font-size="7.6" fill="#1a1a1a" stroke="#1a1a1a" text-anchor="middle">1</text>
<text x="1377.13" y="697.36" class="S" font-size="7.6" fill="#1a1a1a" stroke="#1a1a1a" text-anchor="middle">2</text>
<text x="1351.53" y="688.76" class="S" font-size="9.3" fill="#22226a" stroke="#22226a">L11</text>
<polyline points="1387.65,699.96 1463.03,699.96" stroke="#16165c" stroke-width="1.2" fill="none" stroke-linejoin="miter"/>
<line x1="1457.53" y1="646.06" x2="1468.53" y2="646.06" stroke="#8b1010" stroke-width="1.3"/>
<line x1="1463.03" y1="646.06" x2="1463.03" y2="656.84" stroke="#8b1010" stroke-width="1.1"/>
<text x="1463.03" y="644.06" class="S" font-size="9.5" fill="#8b1a1a" stroke="#8b1a1a" text-anchor="middle">AR_1V8</text>
<polyline points="1463.03,656.84 1463.03,699.96" stroke="#16165c" stroke-width="1.2" fill="none" stroke-linejoin="miter"/>
<circle cx="1419.96" cy="699.96" r="2.6" fill="#000070"/>
<polyline points="1419.96,699.96 1419.96,721.52" stroke="#16165c" stroke-width="1.2" fill="none" stroke-linejoin="miter"/>
<line x1="1419.96" y1="721.52" x2="1419.96" y2="735.59" stroke="#303030" stroke-width="1.1"/>
<line x1="1419.96" y1="739.79" x2="1419.96" y2="753.86" stroke="#303030" stroke-width="1.1"/>
<line x1="1411.06" y1="735.59" x2="1428.86" y2="735.59" stroke="#1a1ac4" stroke-width="1.25"/>
<line x1="1411.06" y1="739.79" x2="1428.86" y2="739.79" stroke="#1a1ac4" stroke-width="1.25"/>
<text x="1429.56" y="740.19" class="S" font-size="9.3" fill="#1a1a1a" stroke="#1a1a1a">C73</text>
<text x="1430.36" y="751.29" class="R" font-size="9.8" fill="#2c2c8c" stroke="#2c2c8c">22uF</text>
<polyline points="1419.96,753.86 1419.96,775.42" stroke="#16165c" stroke-width="1.2" fill="none" stroke-linejoin="miter"/>
<line x1="1419.96" y1="775.42" x2="1419.96" y2="786.2" stroke="#8b1010" stroke-width="1.1"/>
<line x1="1408.96" y1="786.2" x2="1430.96" y2="786.2" stroke="#8b1010" stroke-width="1.3"/>
<line x1="1411.96" y1="789.7" x2="1427.96" y2="789.7" stroke="#8b1010" stroke-width="1.3"/>
<line x1="1415.16" y1="792.9" x2="1424.76" y2="792.9" stroke="#8b1010" stroke-width="1.3"/>
<line x1="1418.76" y1="796" x2="1421.16" y2="796" stroke="#8b1010" stroke-width="1.3"/>
<text x="1419.96" y="805" class="S" font-size="9.45" fill="#8b1a1a" stroke="#8b1a1a" text-anchor="middle">GND</text>
<circle cx="1463.03" cy="699.96" r="2.6" fill="#000070"/>
<polyline points="1463.03,699.96 1463.03,721.52" stroke="#16165c" stroke-width="1.2" fill="none" stroke-linejoin="miter"/>
<line x1="1463.03" y1="721.52" x2="1463.03" y2="735.59" stroke="#303030" stroke-width="1.1"/>
<line x1="1463.03" y1="739.79" x2="1463.03" y2="753.86" stroke="#303030" stroke-width="1.1"/>
<line x1="1454.13" y1="735.59" x2="1471.93" y2="735.59" stroke="#1a1ac4" stroke-width="1.25"/>
<line x1="1454.13" y1="739.79" x2="1471.93" y2="739.79" stroke="#1a1ac4" stroke-width="1.25"/>
<text x="1472.63" y="740.19" class="S" font-size="9.3" fill="#1a1a1a" stroke="#1a1a1a">C112</text>
<text x="1473.43" y="750.79" class="R" font-size="9.8" fill="#2c2c8c" stroke="#2c2c8c">10µF</text>
<polyline points="1463.03,753.86 1463.03,775.42" stroke="#16165c" stroke-width="1.2" fill="none" stroke-linejoin="miter"/>
<line x1="1463.03" y1="775.42" x2="1463.03" y2="786.2" stroke="#8b1010" stroke-width="1.1"/>
<line x1="1452.03" y1="786.2" x2="1474.03" y2="786.2" stroke="#8b1010" stroke-width="1.3"/>
<line x1="1455.03" y1="789.7" x2="1471.03" y2="789.7" stroke="#8b1010" stroke-width="1.3"/>
<line x1="1458.23" y1="792.9" x2="1467.83" y2="792.9" stroke="#8b1010" stroke-width="1.3"/>
<line x1="1461.83" y1="796" x2="1464.23" y2="796" stroke="#8b1010" stroke-width="1.3"/>
<text x="1463.03" y="805" class="S" font-size="9.45" fill="#8b1a1a" stroke="#8b1a1a" text-anchor="middle">GND</text>
<line x1="1522.14" y1="646.06" x2="1533.14" y2="646.06" stroke="#8b1010" stroke-width="1.3"/>
<line x1="1527.64" y1="646.06" x2="1527.64" y2="656.84" stroke="#8b1010" stroke-width="1.1"/>
<text x="1527.64" y="644.06" class="S" font-size="9.5" fill="#8b1a1a" stroke="#8b1a1a" text-anchor="middle">PMIC_1V0</text>
<polyline points="1527.64,656.84 1527.64,699.96 1570.71,699.96" stroke="#16165c" stroke-width="1.2" fill="none" stroke-linejoin="miter"/>
<line x1="1570.71" y1="699.96" x2="1589.13" y2="699.96" stroke="#303030" stroke-width="1.1"/>
<line x1="1606.13" y1="699.96" x2="1624.55" y2="699.96" stroke="#303030" stroke-width="1.1"/>
<rect x="1589.03" y="696.26" width="17.2" height="7.4" transform="rotate(-45 1597.63 699.96)" fill="#fff" stroke="#1a1ac4" stroke-width="1.2"/>
<text x="1581.23" y="697.36" class="S" font-size="7.6" fill="#1a1a1a" stroke="#1a1a1a" text-anchor="middle">1</text>
<text x="1614.03" y="697.36" class="S" font-size="7.6" fill="#1a1a1a" stroke="#1a1a1a" text-anchor="middle">2</text>
<text x="1588.43" y="688.76" class="S" font-size="9.3" fill="#22226a" stroke="#22226a">L12</text>
<polyline points="1624.55,699.96 1721.46,699.96" stroke="#16165c" stroke-width="1.2" fill="none" stroke-linejoin="miter"/>
<line x1="1715.96" y1="646.06" x2="1726.96" y2="646.06" stroke="#8b1010" stroke-width="1.3"/>
<line x1="1721.46" y1="646.06" x2="1721.46" y2="656.84" stroke="#8b1010" stroke-width="1.1"/>
<text x="1721.46" y="644.06" class="S" font-size="9.5" fill="#8b1a1a" stroke="#8b1a1a" text-anchor="middle">AR_1P0_RF1</text>
<polyline points="1721.46,656.84 1721.46,699.96" stroke="#16165c" stroke-width="1.2" fill="none" stroke-linejoin="miter"/>
<circle cx="1678.39" cy="699.96" r="2.6" fill="#000070"/>
<polyline points="1678.39,699.96 1678.39,721.52" stroke="#16165c" stroke-width="1.2" fill="none" stroke-linejoin="miter"/>
<line x1="1678.39" y1="721.52" x2="1678.39" y2="735.59" stroke="#303030" stroke-width="1.1"/>
<line x1="1678.39" y1="739.79" x2="1678.39" y2="753.86" stroke="#303030" stroke-width="1.1"/>
<line x1="1669.49" y1="735.59" x2="1687.29" y2="735.59" stroke="#1a1ac4" stroke-width="1.25"/>
<line x1="1669.49" y1="739.79" x2="1687.29" y2="739.79" stroke="#1a1ac4" stroke-width="1.25"/>
<text x="1687.99" y="740.19" class="S" font-size="9.3" fill="#1a1a1a" stroke="#1a1a1a">C75</text>
<text x="1688.79" y="751.29" class="R" font-size="9.8" fill="#2c2c8c" stroke="#2c2c8c">22uF</text>
<polyline points="1678.39,753.86 1678.39,775.42" stroke="#16165c" stroke-width="1.2" fill="none" stroke-linejoin="miter"/>
<line x1="1678.39" y1="775.42" x2="1678.39" y2="786.2" stroke="#8b1010" stroke-width="1.1"/>
<line x1="1667.39" y1="786.2" x2="1689.39" y2="786.2" stroke="#8b1010" stroke-width="1.3"/>
<line x1="1670.39" y1="789.7" x2="1686.39" y2="789.7" stroke="#8b1010" stroke-width="1.3"/>
<line x1="1673.59" y1="792.9" x2="1683.19" y2="792.9" stroke="#8b1010" stroke-width="1.3"/>
<line x1="1677.19" y1="796" x2="1679.59" y2="796" stroke="#8b1010" stroke-width="1.3"/>
<text x="1678.39" y="805" class="S" font-size="9.45" fill="#8b1a1a" stroke="#8b1a1a" text-anchor="middle">GND</text>
<circle cx="1721.46" cy="699.96" r="2.6" fill="#000070"/>
<polyline points="1721.46,699.96 1721.46,721.52" stroke="#16165c" stroke-width="1.2" fill="none" stroke-linejoin="miter"/>
<line x1="1721.46" y1="721.52" x2="1721.46" y2="735.59" stroke="#303030" stroke-width="1.1"/>
<line x1="1721.46" y1="739.79" x2="1721.46" y2="753.86" stroke="#303030" stroke-width="1.1"/>
<line x1="1712.56" y1="735.59" x2="1730.36" y2="735.59" stroke="#1a1ac4" stroke-width="1.25"/>
<line x1="1712.56" y1="739.79" x2="1730.36" y2="739.79" stroke="#1a1ac4" stroke-width="1.25"/>
<text x="1731.06" y="740.19" class="S" font-size="9.3" fill="#1a1a1a" stroke="#1a1a1a">C113</text>
<text x="1731.86" y="750.79" class="R" font-size="9.8" fill="#2c2c8c" stroke="#2c2c8c">10µF</text>
<polyline points="1721.46,753.86 1721.46,775.42" stroke="#16165c" stroke-width="1.2" fill="none" stroke-linejoin="miter"/>
<line x1="1721.46" y1="775.42" x2="1721.46" y2="786.2" stroke="#8b1010" stroke-width="1.1"/>
<line x1="1710.46" y1="786.2" x2="1732.46" y2="786.2" stroke="#8b1010" stroke-width="1.3"/>
<line x1="1713.46" y1="789.7" x2="1729.46" y2="789.7" stroke="#8b1010" stroke-width="1.3"/>
<line x1="1716.66" y1="792.9" x2="1726.26" y2="792.9" stroke="#8b1010" stroke-width="1.3"/>
<line x1="1720.26" y1="796" x2="1722.66" y2="796" stroke="#8b1010" stroke-width="1.3"/>
<text x="1721.46" y="805" class="S" font-size="9.45" fill="#8b1a1a" stroke="#8b1a1a" text-anchor="middle">GND</text>
<line x1="1296.01" y1="861.66" x2="1307.01" y2="861.66" stroke="#8b1010" stroke-width="1.3"/>
<line x1="1301.51" y1="861.66" x2="1301.51" y2="872.44" stroke="#8b1010" stroke-width="1.1"/>
<text x="1301.51" y="859.66" class="S" font-size="9.5" fill="#8b1a1a" stroke="#8b1a1a" text-anchor="middle">PMIC_1V0</text>
<polyline points="1301.51,872.44 1301.51,904.78 1333.81,904.78" stroke="#16165c" stroke-width="1.2" fill="none" stroke-linejoin="miter"/>
<line x1="1333.81" y1="904.78" x2="1352.23" y2="904.78" stroke="#303030" stroke-width="1.1"/>
<line x1="1369.23" y1="904.78" x2="1387.65" y2="904.78" stroke="#303030" stroke-width="1.1"/>
<rect x="1352.13" y="901.08" width="17.2" height="7.4" transform="rotate(-45 1360.73 904.78)" fill="#fff" stroke="#1a1ac4" stroke-width="1.2"/>
<text x="1344.33" y="902.18" class="S" font-size="7.6" fill="#1a1a1a" stroke="#1a1a1a" text-anchor="middle">1</text>
<text x="1377.13" y="902.18" class="S" font-size="7.6" fill="#1a1a1a" stroke="#1a1a1a" text-anchor="middle">2</text>
<text x="1351.53" y="893.58" class="S" font-size="9.3" fill="#22226a" stroke="#22226a">L14</text>
<polyline points="1387.65,904.78 1463.03,904.78" stroke="#16165c" stroke-width="1.2" fill="none" stroke-linejoin="miter"/>
<line x1="1457.53" y1="861.66" x2="1468.53" y2="861.66" stroke="#8b1010" stroke-width="1.3"/>
<line x1="1463.03" y1="861.66" x2="1463.03" y2="872.44" stroke="#8b1010" stroke-width="1.1"/>
<text x="1463.03" y="859.66" class="S" font-size="9.5" fill="#8b1a1a" stroke="#8b1a1a" text-anchor="middle">AR_1P0_RF2</text>
<polyline points="1463.03,872.44 1463.03,904.78" stroke="#16165c" stroke-width="1.2" fill="none" stroke-linejoin="miter"/>
<circle cx="1419.96" cy="904.78" r="2.6" fill="#000070"/>
<polyline points="1419.96,904.78 1419.96,926.34" stroke="#16165c" stroke-width="1.2" fill="none" stroke-linejoin="miter"/>
<line x1="1419.96" y1="926.34" x2="1419.96" y2="940.41" stroke="#303030" stroke-width="1.1"/>
<line x1="1419.96" y1="944.61" x2="1419.96" y2="958.68" stroke="#303030" stroke-width="1.1"/>
<line x1="1411.06" y1="940.41" x2="1428.86" y2="940.41" stroke="#1a1ac4" stroke-width="1.25"/>
<line x1="1411.06" y1="944.61" x2="1428.86" y2="944.61" stroke="#1a1ac4" stroke-width="1.25"/>
<text x="1429.56" y="945.01" class="S" font-size="9.3" fill="#1a1a1a" stroke="#1a1a1a">C111</text>
<text x="1430.36" y="956.11" class="R" font-size="9.8" fill="#2c2c8c" stroke="#2c2c8c">22uF</text>
<polyline points="1419.96,958.68 1419.96,980.24" stroke="#16165c" stroke-width="1.2" fill="none" stroke-linejoin="miter"/>
<line x1="1419.96" y1="980.24" x2="1419.96" y2="991.02" stroke="#8b1010" stroke-width="1.1"/>
<line x1="1408.96" y1="991.02" x2="1430.96" y2="991.02" stroke="#8b1010" stroke-width="1.3"/>
<line x1="1411.96" y1="994.52" x2="1427.96" y2="994.52" stroke="#8b1010" stroke-width="1.3"/>
<line x1="1415.16" y1="997.72" x2="1424.76" y2="997.72" stroke="#8b1010" stroke-width="1.3"/>
<line x1="1418.76" y1="1000.82" x2="1421.16" y2="1000.82" stroke="#8b1010" stroke-width="1.3"/>
<text x="1419.96" y="1009.82" class="S" font-size="9.45" fill="#8b1a1a" stroke="#8b1a1a" text-anchor="middle">GND</text>
<circle cx="1463.03" cy="904.78" r="2.6" fill="#000070"/>
<polyline points="1463.03,904.78 1463.03,926.34" stroke="#16165c" stroke-width="1.2" fill="none" stroke-linejoin="miter"/>
<line x1="1463.03" y1="926.34" x2="1463.03" y2="940.41" stroke="#303030" stroke-width="1.1"/>
<line x1="1463.03" y1="944.61" x2="1463.03" y2="958.68" stroke="#303030" stroke-width="1.1"/>
<line x1="1454.13" y1="940.41" x2="1471.93" y2="940.41" stroke="#1a1ac4" stroke-width="1.25"/>
<line x1="1454.13" y1="944.61" x2="1471.93" y2="944.61" stroke="#1a1ac4" stroke-width="1.25"/>
<text x="1472.63" y="945.01" class="S" font-size="9.3" fill="#1a1a1a" stroke="#1a1a1a">C121</text>
<text x="1473.43" y="955.61" class="R" font-size="9.8" fill="#2c2c8c" stroke="#2c2c8c">10µF</text>
<polyline points="1463.03,958.68 1463.03,980.24" stroke="#16165c" stroke-width="1.2" fill="none" stroke-linejoin="miter"/>
<line x1="1463.03" y1="980.24" x2="1463.03" y2="991.02" stroke="#8b1010" stroke-width="1.1"/>
<line x1="1452.03" y1="991.02" x2="1474.03" y2="991.02" stroke="#8b1010" stroke-width="1.3"/>
<line x1="1455.03" y1="994.52" x2="1471.03" y2="994.52" stroke="#8b1010" stroke-width="1.3"/>
<line x1="1458.23" y1="997.72" x2="1467.83" y2="997.72" stroke="#8b1010" stroke-width="1.3"/>
<line x1="1461.83" y1="1000.82" x2="1464.23" y2="1000.82" stroke="#8b1010" stroke-width="1.3"/>
<text x="1463.03" y="1009.82" class="S" font-size="9.45" fill="#8b1a1a" stroke="#8b1a1a" text-anchor="middle">GND</text>
<line x1="1554.44" y1="861.66" x2="1565.44" y2="861.66" stroke="#8b1010" stroke-width="1.3"/>
<line x1="1559.94" y1="861.66" x2="1559.94" y2="872.44" stroke="#8b1010" stroke-width="1.1"/>
<text x="1559.94" y="859.66" class="S" font-size="9.5" fill="#8b1a1a" stroke="#8b1a1a" text-anchor="middle">PMIC_1V2</text>
<polyline points="1559.94,872.44 1559.94,894 1603.01,894" stroke="#16165c" stroke-width="1.2" fill="none" stroke-linejoin="miter"/>
<line x1="1603.01" y1="894" x2="1621.43" y2="894" stroke="#303030" stroke-width="1.1"/>
<line x1="1638.43" y1="894" x2="1656.85" y2="894" stroke="#303030" stroke-width="1.1"/>
<rect x="1621.33" y="890.3" width="17.2" height="7.4" transform="rotate(-45 1629.93 894)" fill="#fff" stroke="#1a1ac4" stroke-width="1.2"/>
<text x="1613.53" y="891.4" class="S" font-size="7.6" fill="#1a1a1a" stroke="#1a1a1a" text-anchor="middle">1</text>
<text x="1646.33" y="891.4" class="S" font-size="7.6" fill="#1a1a1a" stroke="#1a1a1a" text-anchor="middle">2</text>
<text x="1620.73" y="882.8" class="S" font-size="9.3" fill="#22226a" stroke="#22226a">L13</text>
<polyline points="1656.85,894 1710.69,894" stroke="#16165c" stroke-width="1.2" fill="none" stroke-linejoin="miter"/>
<line x1="1705.19" y1="861.66" x2="1716.19" y2="861.66" stroke="#8b1010" stroke-width="1.3"/>
<line x1="1710.69" y1="861.66" x2="1710.69" y2="872.44" stroke="#8b1010" stroke-width="1.1"/>
<text x="1710.69" y="859.66" class="S" font-size="9.5" fill="#8b1a1a" stroke="#8b1a1a" text-anchor="middle">AR_1P2</text>
<polyline points="1710.69,872.44 1710.69,894" stroke="#16165c" stroke-width="1.2" fill="none" stroke-linejoin="miter"/>
<polyline points="1710.69,894 1710.69,915.56" stroke="#16165c" stroke-width="1.2" fill="none" stroke-linejoin="miter"/>
<line x1="1710.69" y1="915.56" x2="1710.69" y2="929.63" stroke="#303030" stroke-width="1.1"/>
<line x1="1710.69" y1="933.83" x2="1710.69" y2="947.9" stroke="#303030" stroke-width="1.1"/>
<line x1="1701.79" y1="929.63" x2="1719.59" y2="929.63" stroke="#1a1ac4" stroke-width="1.25"/>
<line x1="1701.79" y1="933.83" x2="1719.59" y2="933.83" stroke="#1a1ac4" stroke-width="1.25"/>
<text x="1720.29" y="934.23" class="S" font-size="9.3" fill="#1a1a1a" stroke="#1a1a1a">C76</text>
<text x="1721.09" y="944.83" class="R" font-size="9.8" fill="#2c2c8c" stroke="#2c2c8c">10µF</text>
<polyline points="1710.69,947.9 1710.69,980.24" stroke="#16165c" stroke-width="1.2" fill="none" stroke-linejoin="miter"/>
<line x1="1710.69" y1="980.24" x2="1710.69" y2="991.02" stroke="#8b1010" stroke-width="1.1"/>
<line x1="1699.69" y1="991.02" x2="1721.69" y2="991.02" stroke="#8b1010" stroke-width="1.3"/>
<line x1="1702.69" y1="994.52" x2="1718.69" y2="994.52" stroke="#8b1010" stroke-width="1.3"/>
<line x1="1705.89" y1="997.72" x2="1715.49" y2="997.72" stroke="#8b1010" stroke-width="1.3"/>
<line x1="1709.49" y1="1000.82" x2="1711.89" y2="1000.82" stroke="#8b1010" stroke-width="1.3"/>
<text x="1710.69" y="1009.82" class="S" font-size="9.45" fill="#8b1a1a" stroke="#8b1a1a" text-anchor="middle">GND</text>
<circle cx="1710.69" cy="894" r="2.6" fill="#000070"/>
<text x="566.3" y="40.7" class="R" font-size="29.22" fill="#000" font-weight="bold">PMIC (3.3V, 1.2V, 1.0V, 1.8V OUTPUTS)</text>
<line x1="1785.7" y1="1.5" x2="1785.7" y2="1087.6" stroke="#2a2a2a" stroke-width="1.3"/>
<line x1="0" y1="1087.6" x2="1785.7" y2="1087.6" stroke="#2a2a2a" stroke-width="1.3"/>
<line x1="1807.5" y1="1.5" x2="1807.5" y2="1109.5" stroke="#151515" stroke-width="1.1"/>
<line x1="0" y1="1109.5" x2="1808" y2="1109.5" stroke="#151515" stroke-width="1.1"/>
<line x1="1785.7" y1="220" x2="1807.5" y2="220" stroke="#2a2a2a" stroke-width="1.1"/>
<line x1="1785.7" y1="516.4" x2="1807.5" y2="516.4" stroke="#2a2a2a" stroke-width="1.1"/>
<line x1="1785.7" y1="812.6" x2="1807.5" y2="812.6" stroke="#2a2a2a" stroke-width="1.1"/>
<line x1="282.1" y1="1087.6" x2="282.1" y2="1109.3" stroke="#2a2a2a" stroke-width="1.1"/>
<line x1="587.3" y1="1087.6" x2="587.3" y2="1109.3" stroke="#2a2a2a" stroke-width="1.1"/>
<line x1="892.4" y1="1087.6" x2="892.4" y2="1109.3" stroke="#2a2a2a" stroke-width="1.1"/>
<line x1="1197.6" y1="1087.6" x2="1197.6" y2="1109.3" stroke="#2a2a2a" stroke-width="1.1"/>
<line x1="1502.6" y1="1087.6" x2="1502.6" y2="1109.3" stroke="#2a2a2a" stroke-width="1.1"/>
<text x="1796.8" y="80.4" class="S" font-size="8.6" fill="#222" stroke="#222" text-anchor="middle">A</text>
<text x="1796.8" y="376.1" class="S" font-size="8.6" fill="#222" stroke="#222" text-anchor="middle">B</text>
<text x="1796.8" y="672.7" class="S" font-size="8.6" fill="#222" stroke="#222" text-anchor="middle">C</text>
<text x="1796.8" y="968.9" class="S" font-size="8.6" fill="#222" stroke="#222" text-anchor="middle">D</text>
<text x="129.4" y="1102.2" class="S" font-size="8.6" fill="#222" stroke="#222" text-anchor="middle">1</text>
<text x="434.5" y="1102.2" class="S" font-size="8.6" fill="#222" stroke="#222" text-anchor="middle">2</text>
<text x="739.5" y="1102.2" class="S" font-size="8.6" fill="#222" stroke="#222" text-anchor="middle">3</text>
<text x="1044.6" y="1102.2" class="S" font-size="8.6" fill="#222" stroke="#222" text-anchor="middle">4</text>
<text x="1349.6" y="1102.2" class="S" font-size="8.6" fill="#222" stroke="#222" text-anchor="middle">5</text>
<text x="1654.7" y="1102.2" class="S" font-size="8.6" fill="#222" stroke="#222" text-anchor="middle">6</text>
<line x1="282.1" y1="1128.7" x2="282.1" y2="1149.4" stroke="#2a2a2a" stroke-width="1.1"/>
<line x1="587.3" y1="1128.7" x2="587.3" y2="1149.4" stroke="#2a2a2a" stroke-width="1.1"/>
<line x1="892.4" y1="1128.7" x2="892.4" y2="1149.4" stroke="#2a2a2a" stroke-width="1.1"/>
<line x1="1197.6" y1="1128.7" x2="1197.6" y2="1149.4" stroke="#2a2a2a" stroke-width="1.1"/>
<line x1="1502.6" y1="1128.7" x2="1502.6" y2="1149.4" stroke="#2a2a2a" stroke-width="1.1"/>
<line x1="0" y1="1149.4" x2="1785.7" y2="1149.4" stroke="#2a2a2a" stroke-width="1.3"/>
<line x1="1785.7" y1="1149.4" x2="1785.7" y2="1197" stroke="#2a2a2a" stroke-width="1.3"/>
<line x1="1807.5" y1="1128.7" x2="1807.5" y2="1197" stroke="#2a2a2a" stroke-width="1.1"/>
<text x="129.4" y="1142.1" class="S" font-size="8.6" fill="#222" stroke="#222" text-anchor="middle">1</text>
<text x="434.5" y="1142.1" class="S" font-size="8.6" fill="#222" stroke="#222" text-anchor="middle">2</text>
<text x="739.5" y="1142.1" class="S" font-size="8.6" fill="#222" stroke="#222" text-anchor="middle">3</text>
<text x="1044.6" y="1142.1" class="S" font-size="8.6" fill="#222" stroke="#222" text-anchor="middle">4</text>
<text x="1349.6" y="1142.1" class="S" font-size="8.6" fill="#222" stroke="#222" text-anchor="middle">5</text>
<text x="1654.7" y="1142.1" class="S" font-size="8.6" fill="#222" stroke="#222" text-anchor="middle">6</text>
<line x1="1226.3" y1="1023.3" x2="1785.7" y2="1023.3" stroke="#222" stroke-width="1.2"/>
<line x1="1226.3" y1="1034.4" x2="1667.7" y2="1034.4" stroke="#222" stroke-width="1.1"/>
<line x1="1226.3" y1="1045.3" x2="1667.7" y2="1045.3" stroke="#222" stroke-width="1.1"/>
<line x1="1226.3" y1="1055.4" x2="1667.7" y2="1055.4" stroke="#222" stroke-width="1.1"/>
<line x1="1226.3" y1="1066.7" x2="1667.7" y2="1066.7" stroke="#222" stroke-width="1.1"/>
<line x1="1226.3" y1="1076.8" x2="1667.7" y2="1076.8" stroke="#222" stroke-width="1.1"/>
<line x1="1667.7" y1="1076.8" x2="1785.7" y2="1076.8" stroke="#222" stroke-width="1.1"/>
<line x1="1226.3" y1="1023.3" x2="1226.3" y2="1087.6" stroke="#222" stroke-width="1.2"/>
<line x1="1387.7" y1="1023.3" x2="1387.7" y2="1087.6" stroke="#222" stroke-width="1.1"/>
<line x1="1667.7" y1="1023.3" x2="1667.7" y2="1076.8" stroke="#222" stroke-width="1.1"/>
<line x1="1334" y1="1045.3" x2="1334" y2="1055.4" stroke="#222" stroke-width="1.1"/>
<line x1="1560" y1="1023.3" x2="1560" y2="1034.4" stroke="#222" stroke-width="1.1"/>
<line x1="1592.8" y1="1055.4" x2="1592.8" y2="1066.7" stroke="#222" stroke-width="1.1"/>
<line x1="1614" y1="1066.7" x2="1614" y2="1076.8" stroke="#222" stroke-width="1.1"/>
<line x1="418.7" y1="1055.4" x2="1226.3" y2="1055.4" stroke="#222" stroke-width="1.1"/>
<line x1="418.7" y1="1055.4" x2="418.7" y2="1087.6" stroke="#222" stroke-width="1.1"/>
<text x="1229.7" y="1032" class="S" font-size="9.5" fill="#111" stroke="#111">Orderable:</text>
<text x="1280.1" y="1032" class="S" font-size="9.5" fill="#2a2aa0" stroke="#2a2aa0">AWR1843AOPEVM</text>
<text x="1391.1" y="1032" class="S" font-size="9.5" fill="#111" stroke="#111">Designed for:</text>
<text x="1450.1" y="1032" class="S" font-size="9.5" fill="#2a2aa0" stroke="#2a2aa0">Public Release</text>
<text x="1562.3" y="1032" class="S" font-size="9.5" fill="#111" stroke="#111">Mod. Date:</text>
<text x="1614.1" y="1032" class="S" font-size="9.5" fill="#111" stroke="#111">14-12-2020</text>
<text x="1229.7" y="1042.8" class="S" font-size="9.5" fill="#111" stroke="#111">TID #:</text>
<text x="1280.1" y="1042.8" class="S" font-size="9.5" fill="#2a2aa0" stroke="#2a2aa0">N/A</text>
<text x="1391.1" y="1042.8" class="S" font-size="9.5" fill="#111" stroke="#111">Project Title:</text>
<text x="1446.6" y="1042.8" class="S" font-size="9.5" fill="#2a2aa0" stroke="#2a2aa0">xWR1843AOPEVM</text>
<text x="1229.7" y="1053.9" class="S" font-size="9.5" fill="#111" stroke="#111">Number:</text>
<text x="1269.3" y="1053.9" class="S" font-size="9.5" fill="#2a2aa0" stroke="#2a2aa0">PROC106</text>
<text x="1337.4" y="1053.9" class="S" font-size="9.5" fill="#111" stroke="#111">Rev:</text>
<text x="1365.9" y="1053.9" class="S" font-size="9.5" fill="#2a2aa0" stroke="#2a2aa0">A1</text>
<text x="1391.1" y="1053.9" class="S" font-size="9.5" fill="#111" stroke="#111">Sheet Title:</text>
<text x="1442.5" y="1053.9" class="S" font-size="9.5" fill="#2a2aa0" stroke="#2a2aa0">PMIC</text>
<text x="1229.7" y="1065" class="S" font-size="9.5" fill="#111" stroke="#111">SVN Rev:</text>
<text x="1280.1" y="1065" class="S" font-size="9.5" fill="#111" stroke="#111">Not in version control</text>
<text x="1391.1" y="1065" class="S" font-size="9.5" fill="#111" stroke="#111">Assembly Variant:</text>
<text x="1470.5" y="1065" class="S" font-size="9.5" fill="#2a2aa0" stroke="#2a2aa0">001</text>
<text x="1595.4" y="1065" class="S" font-size="9.5" fill="#111" stroke="#111">Sheet:</text>
<text x="1624.9" y="1065" class="S" font-size="9.5" fill="#2a2aa0" stroke="#2a2aa0">5</text>
<text x="1637.5" y="1065" class="S" font-size="9.5" fill="#111" stroke="#111">of</text>
<text x="1651.9" y="1065" class="S" font-size="9.5" fill="#2a2aa0" stroke="#2a2aa0">12</text>
<text x="1229.7" y="1074.9" class="S" font-size="9.5" fill="#111" stroke="#111">Drawn By:</text>
<text x="1274.3" y="1074.9" class="S" font-size="9.5" fill="#2a2aa0" stroke="#2a2aa0">Antony/Anand Ram</text>
<text x="1391.1" y="1074.9" class="S" font-size="9.5" fill="#111" stroke="#111">File:</text>
<text x="1411.8" y="1074.9" class="S" font-size="9.5" fill="#2a2aa0" stroke="#2a2aa0">PROC106A1_PMIC.SchDoc</text>
<text x="1617.3" y="1074.9" class="S" font-size="9.5" fill="#111" stroke="#111">Size:</text>
<text x="1640.1" y="1074.9" class="S" font-size="9.5" fill="#111" stroke="#111">B</text>
<text x="1229.7" y="1086.2" class="S" font-size="9.5" fill="#111" stroke="#111">Engineer:</text>
<text x="1274.3" y="1086.2" class="S" font-size="9.5" fill="#2a2aa0" stroke="#2a2aa0">Antony/Anand Ram</text>
<text x="1391.1" y="1086.2" class="S" font-size="9.5" fill="#111" stroke="#111">Contact:</text>
<text x="1430.7" y="1086.2" class="S" font-size="9.5" fill="#2a2aa0" stroke="#2a2aa0">http://www.ti.com/support</text>
<text x="423.4" y="1064.6" class="S" font-size="9.3" fill="#111" stroke="#111" textLength="780.1" lengthAdjust="spacingAndGlyphs">Texas Instruments and/or its licensors do not warrant the accuracy or completeness of this specification or any information contained therein. Texas Instruments and/or its licensors do not</text>
<text x="423.4" y="1074.9" class="S" font-size="9.3" fill="#111" stroke="#111" textLength="772.7" lengthAdjust="spacingAndGlyphs">warrant that this design will meet the specifications, will be suitable for your application or fit for any particular purpose, or will operate in an implementation. Texas Instruments and/or its</text>
<text x="423.4" y="1085.8" class="S" font-size="9.3" fill="#111" stroke="#111" textLength="773.4" lengthAdjust="spacingAndGlyphs">licensors do not warrant that the design is production worthy. You should completely validate and test your design implementation to confirm the system functionality for your application.</text>
<text x="1724.4" y="1074.6" class="S" font-size="9.45" fill="#111" stroke="#111" text-anchor="middle">http://www.ti.com</text>
<text x="1677.8" y="1085.6" class="S" font-size="7.8" fill="#111" stroke="#111">© Texas Instruments</text>
<text x="1753.4" y="1085.6" class="S" font-size="7.8" fill="#2a2aa0" stroke="#2a2aa0">2019</text>
<polygon points="1682.3,1034.1 1687,1034.1 1687,1038.2 1695.2,1038.2 1697.4,1038.9 1697.7,1043.9 1698.1,1046.8 1695.9,1049 1692.4,1050.5 1692.1,1054.6 1689.5,1054.6 1686.7,1052.1 1684.5,1049.3 1682.3,1046.8 1680.4,1048.3 1676.3,1042.7 1682.3,1041.7" stroke="#000" stroke-width="0.6" fill="#000" stroke-linejoin="miter"/>
<line x1="1691" y1="1035.8" x2="1688.5" y2="1048.6" stroke="#fff" stroke-width="1.5"/>
<line x1="1687.6" y1="1039.6" x2="1692.6" y2="1039.6" stroke="#fff" stroke-width="1.1"/>
<line x1="1694" y1="1041" x2="1692.6" y2="1047.6" stroke="#fff" stroke-width="1.4"/>
<circle cx="1694.6" cy="1037.9" r="0.9" fill="#fff"/>
<text x="1701.3" y="1046.8" class="R" font-size="12.4" font-weight="bold" fill="#000" textLength="32.6" lengthAdjust="spacingAndGlyphs">T<tspan font-size="9.3">EXAS</tspan></text>
<text x="1703.8" y="1057.7" class="R" font-size="12.6" font-weight="bold" fill="#000" textLength="73.4" lengthAdjust="spacingAndGlyphs">I<tspan font-size="9.5">NSTRUMENTS</tspan></text>
<rect x="947" y="1209.6" width="52" height="8" rx="3" fill="#f3f3f3"/>
<rect x="1208" y="1209.6" width="57" height="8" rx="3" fill="#f5dcdc"/>
</svg>
</body></html>
